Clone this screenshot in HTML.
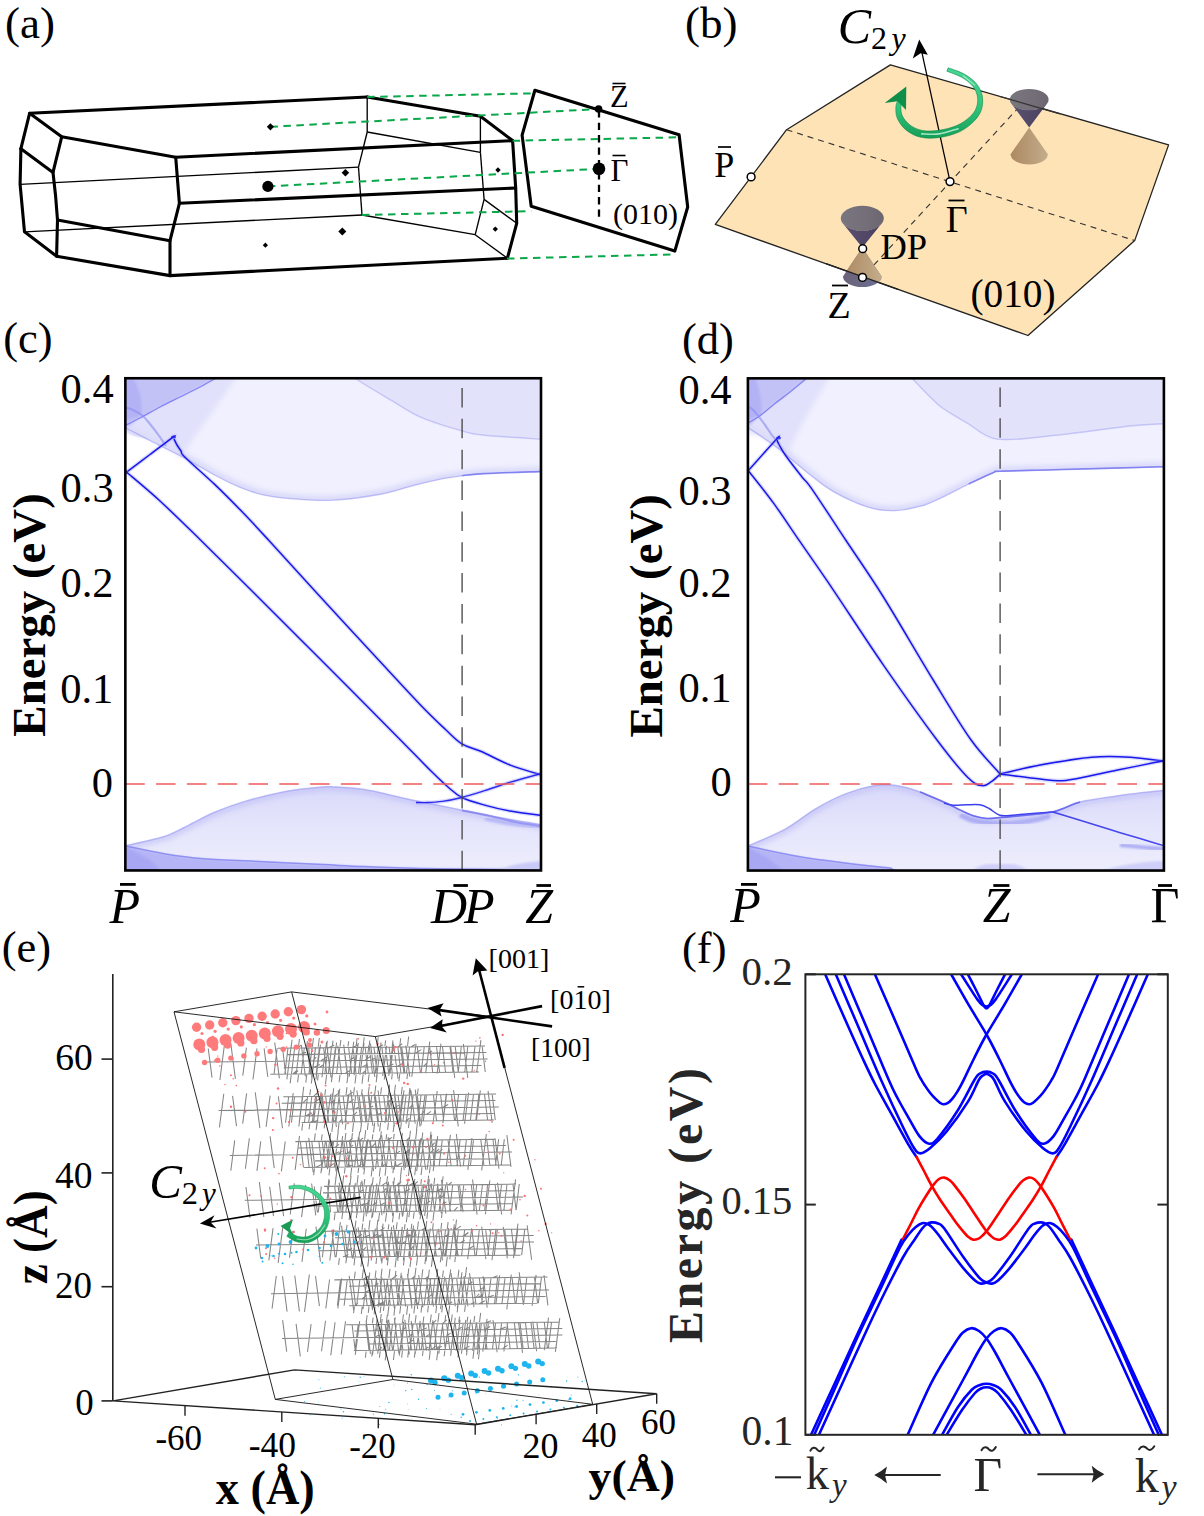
<!DOCTYPE html>
<html><head><meta charset="utf-8"><title>Figure</title>
<style>html,body{margin:0;padding:0;background:#fff;overflow:hidden;} svg{display:block;} text{font-family:"Liberation Serif", serif;}</style>
</head><body>
<svg width="1204" height="1516" viewBox="0 0 1204 1516">
<defs>
<linearGradient id="tanG" x1="0" y1="0" x2="1" y2="0"><stop offset="0" stop-color="#ad8a62"/><stop offset="0.5" stop-color="#b89a76"/><stop offset="1" stop-color="#c4ad8c"/></linearGradient>
<linearGradient id="topG" x1="0" y1="0" x2="1" y2="0"><stop offset="0" stop-color="#7a7680"/><stop offset="0.6" stop-color="#736e78"/><stop offset="1" stop-color="#6d6672"/></linearGradient>
<linearGradient id="purG" x1="0" y1="0" x2="1" y2="0"><stop offset="0" stop-color="#5a5070"/><stop offset="1" stop-color="#4a4060"/></linearGradient>
<linearGradient id="botG" x1="0" y1="0" x2="1" y2="0"><stop offset="0" stop-color="#6c6278"/><stop offset="1" stop-color="#6a6f94"/></linearGradient>
<linearGradient id="grnG" x1="0" y1="0" x2="0" y2="1"><stop offset="0" stop-color="#3fd08a"/><stop offset="0.5" stop-color="#22b86a"/><stop offset="1" stop-color="#109a55"/></linearGradient>
<clipPath id="planeClip"><polygon points="890.4,64.9 1168.6,144.9 1134.7,240.6 1028,335.5 715.3,224.4 786.6,129.7"/></clipPath><linearGradient id="ribG" x1="0" y1="0" x2="0" y2="1"><stop offset="0" stop-color="#48d694"/><stop offset="0.55" stop-color="#30c47c"/><stop offset="1" stop-color="#169e57"/></linearGradient><filter id="blur1" x="-5%" y="-5%" width="110%" height="110%"><feGaussianBlur stdDeviation="1.2"/></filter><filter id="blur2" x="-5%" y="-5%" width="110%" height="110%"><feGaussianBlur stdDeviation="2.5"/></filter><filter id="blur05"><feGaussianBlur stdDeviation="0.45"/></filter><linearGradient id="vbG" gradientUnits="userSpaceOnUse" x1="0" y1="785" x2="0" y2="865"><stop offset="0" stop-color="#dadafb"/><stop offset="0.5" stop-color="#e4e4fc"/><stop offset="1" stop-color="#ececfd"/></linearGradient><clipPath id="clipC"><rect x="125.3" y="378.2" width="415.7" height="492"/></clipPath><clipPath id="clipD"><rect x="747.9" y="378.4" width="416" height="492"/></clipPath><clipPath id="bowlC"><path d="M124,370 C124,379.5 119.67,415.25 124,427 C128.33,438.75 139.83,435.3 150,440.5 C160.17,445.7 174.33,452.52 185,458.2 C195.67,463.88 205.27,469.95 214,474.6 C222.73,479.25 229.15,482.72 237.4,486.1 C245.65,489.48 253.33,492.72 263.5,494.9 C273.67,497.08 286.65,498.33 298.4,499.2 C310.15,500.07 320.17,500.97 334,500.1 C347.83,499.23 368.42,496.37 381.4,494 C394.38,491.63 401.72,488.45 411.9,485.9 C422.08,483.35 434.12,480.4 442.5,478.7 C450.88,477 455.42,476.55 462.2,475.7 C468.98,474.85 470.38,474.28 483.2,473.6 C496.02,472.92 528.8,471.95 539.1,471.6 C549.4,471.25 544.02,488.43 545,471.5 C545.98,454.57 545,386.92 545,370 Z"/></clipPath><clipPath id="vbC"><path d="M124,846.3 C124.33,846.2 119.35,847.3 126,845.7 C132.65,844.1 154.27,839.68 163.9,836.7 C173.53,833.72 175.5,831.78 183.8,827.8 C192.1,823.82 203.73,817.12 213.7,812.8 C223.67,808.48 231.97,805.38 243.6,801.9 C255.23,798.42 271.87,794.23 283.5,791.9 C295.13,789.57 305.1,788.73 313.4,787.9 C321.7,787.07 324.87,786.63 333.3,786.9 C341.73,787.17 351.53,787.45 364,789.5 C376.47,791.55 397.35,796.88 408.1,799.2 C418.85,801.52 419.53,801.55 428.5,803.4 C437.47,805.25 448.27,807.6 461.9,810.3 C475.53,813 497.28,817.2 510.3,819.6 C523.32,822 534.22,823.72 540,824.7 C545.78,825.68 544.17,816.28 545,825.5 C545.83,834.72 615.17,870.92 545,880 C474.83,889.08 194.17,880 124,880 Z"/></clipPath><clipPath id="bowlD"><path d="M746,370 C746,379.67 745.42,418.23 746,428 C746.58,437.77 744.27,425.3 749.5,428.6 C754.73,431.9 767.82,440.53 777.4,447.8 C786.98,455.07 797.7,464.93 807,472.2 C816.3,479.47 823.02,485.58 833.2,491.4 C843.38,497.22 857.92,503.9 868.1,507.1 C878.28,510.3 885.58,510.75 894.3,510.6 C903.02,510.45 912.78,508.25 920.4,506.2 C928.02,504.15 931.95,502 940,498.3 C948.05,494.6 959.78,488.28 968.7,484 C977.62,479.72 988.25,474.73 993.5,472.6 C998.75,470.47 990.02,471.68 1000.2,471.2 C1010.38,470.72 1027.7,470.43 1054.6,469.7 C1081.5,468.97 1142.7,467.3 1161.6,466.8 C1180.5,466.3 1166.93,482.83 1168,466.7 C1169.07,450.57 1168,386.12 1168,370 Z"/></clipPath><clipPath id="vbD"><path d="M746,846.5 C746.5,846.37 742.35,848.65 749,845.7 C755.65,842.75 774.77,834.95 785.9,828.8 C797.03,822.65 805.83,814.62 815.8,808.8 C825.77,802.98 835.73,797.78 845.7,793.9 C855.67,790.02 867.3,786.9 875.6,785.5 C883.9,784.1 888.1,784.42 895.5,785.5 C902.9,786.58 911.48,789.05 920,792 C928.52,794.95 939.95,800.22 946.6,803.2 C953.25,806.18 955.47,807.8 959.9,809.9 C964.33,812 968.78,814.37 973.2,815.8 C977.62,817.23 981.98,818.2 986.4,818.5 C990.82,818.8 993.05,818.15 999.7,817.6 C1006.35,817.05 1017.43,816.15 1026.3,815.2 C1035.17,814.25 1046.25,813.23 1052.9,811.9 C1059.55,810.57 1061.68,808.87 1066.2,807.2 C1070.72,805.53 1071.45,803.78 1080,801.9 C1088.55,800.02 1103.97,797.77 1117.5,795.9 C1131.03,794.03 1152.78,791.68 1161.2,790.7 C1169.62,789.72 1166.87,775.12 1168,790 C1169.13,804.88 1238.33,865 1168,880 C1097.67,895 816.33,880 746,880 Z"/></clipPath><clipPath id="clipF"><rect x="805.4" y="974.3" width="362.4" height="460.5"/></clipPath></defs>
<rect x="0" y="0" width="1204" height="1516" fill="#fff"/>
<text x="5" y="38.3" font-family="&quot;Liberation Serif&quot;, serif" font-size="45" font-weight="normal" font-style="normal" text-anchor="start" fill="#000" >(a)</text>
<text x="685" y="38.2" font-family="&quot;Liberation Serif&quot;, serif" font-size="45" font-weight="normal" font-style="normal" text-anchor="start" fill="#000" >(b)</text>
<text x="3.3" y="353.4" font-family="&quot;Liberation Serif&quot;, serif" font-size="44.5" font-weight="normal" font-style="normal" text-anchor="start" fill="#000" >(c)</text>
<text x="682" y="353.8" font-family="&quot;Liberation Serif&quot;, serif" font-size="44.5" font-weight="normal" font-style="normal" text-anchor="start" fill="#000" >(d)</text>
<text x="1.7" y="962" font-family="&quot;Liberation Serif&quot;, serif" font-size="44.5" font-weight="normal" font-style="normal" text-anchor="start" fill="#000" >(e)</text>
<text x="682" y="962.6" font-family="&quot;Liberation Serif&quot;, serif" font-size="44.5" font-weight="normal" font-style="normal" text-anchor="start" fill="#000" >(f)</text>
<line x1="20.1" y1="184.3" x2="358.5" y2="167.2" stroke="#000" stroke-width="1.35" />
<line x1="24.5" y1="231.8" x2="362" y2="215" stroke="#000" stroke-width="1.35" />
<line x1="367.2" y1="97" x2="367.2" y2="132" stroke="#000" stroke-width="1.35" />
<line x1="367.2" y1="132" x2="358.5" y2="167.2" stroke="#000" stroke-width="1.35" />
<line x1="358.5" y1="167.2" x2="362" y2="215" stroke="#000" stroke-width="1.35" />
<line x1="367.2" y1="132" x2="480.4" y2="152.3" stroke="#000" stroke-width="1.35" />
<line x1="480.4" y1="116.3" x2="480.4" y2="152.3" stroke="#000" stroke-width="1.35" />
<line x1="480.4" y1="152.3" x2="484.1" y2="199.4" stroke="#000" stroke-width="1.35" />
<line x1="484.1" y1="199.4" x2="475.2" y2="234.7" stroke="#000" stroke-width="1.35" />
<line x1="362" y1="215" x2="475.2" y2="234.7" stroke="#000" stroke-width="1.35" />
<line x1="475.2" y1="234.7" x2="507.4" y2="258.2" stroke="#000" stroke-width="1.35" />
<line x1="484.1" y1="199.4" x2="516.7" y2="223.3" stroke="#000" stroke-width="1.35" />
<g stroke="#000" stroke-width="3.1" fill="none" stroke-linejoin="round" stroke-linecap="round">
<polyline points="20.9,148.7 29.6,113.3 367.2,97"/>
<polyline points="29.6,113.3 61.7,136.8 175.7,157.2 512.6,140.6"/>
<polyline points="20.9,148.7 53,172.4 61.7,136.8"/>
<polyline points="20.9,148.7 20.1,184.3 24.5,231.8 56.6,256.2 170,275.6 507.4,258.2"/>
<polyline points="53,172.4 55.6,196 57.5,220 56.6,256.2"/>
<polyline points="57.5,220 170,240.7"/>
<polyline points="175.7,157.2 179.4,203.3 170,240.7 170,275.6"/>
<polyline points="179.4,203.3 515.7,188"/>
<polyline points="367.2,97 480.4,116.3 512.6,140.6 515.7,188 516.7,223.3 507.4,258.2"/>
</g>
<polygon points="534.9,90.3 679.1,134.8 687.7,207 674.8,251.1 531.2,206.2 522.1,135.1" stroke="#000" stroke-width="3.1" fill="none" stroke-linejoin="round" />
<line x1="599" y1="110.3" x2="599" y2="221" stroke="#000" stroke-width="2.3" stroke-dasharray="7.3,5.1"/>
<line x1="367.2" y1="97" x2="534.9" y2="93.3" stroke="#0aa84a" stroke-width="2" stroke-dasharray="7.5,5.5"/>
<line x1="270.4" y1="126.8" x2="598.5" y2="109" stroke="#0aa84a" stroke-width="2" stroke-dasharray="7.5,5.5"/>
<line x1="512.6" y1="140.8" x2="679" y2="137.3" stroke="#0aa84a" stroke-width="2" stroke-dasharray="7.5,5.5"/>
<line x1="267.9" y1="186.4" x2="599" y2="168.8" stroke="#0aa84a" stroke-width="2" stroke-dasharray="7.5,5.5"/>
<line x1="362" y1="215" x2="531.2" y2="211.2" stroke="#0aa84a" stroke-width="2" stroke-dasharray="7.5,5.5"/>
<line x1="507" y1="258.6" x2="674.8" y2="254.4" stroke="#0aa84a" stroke-width="2" stroke-dasharray="7.5,5.5"/>
<polygon points="266.8,126.8 270.4,123.2 274,126.8 270.4,130.4" stroke="#000" stroke-width="0" fill="#000" stroke-linejoin="round" />
<polygon points="262.8,245.2 265.4,242.6 268,245.2 265.4,247.8" stroke="#000" stroke-width="0" fill="#000" stroke-linejoin="round" />
<polygon points="341.6,172.8 345.4,169 349.2,172.8 345.4,176.6" stroke="#000" stroke-width="0" fill="#000" stroke-linejoin="round" />
<polygon points="338.3,231.6 342.3,227.6 346.3,231.6 342.3,235.6" stroke="#000" stroke-width="0" fill="#000" stroke-linejoin="round" />
<polygon points="495.3,170 498,167.3 500.7,170 498,172.7" stroke="#000" stroke-width="0" fill="#000" stroke-linejoin="round" />
<polygon points="492.6,229.1 495.3,226.4 498,229.1 495.3,231.8" stroke="#000" stroke-width="0" fill="#000" stroke-linejoin="round" />
<circle cx="267.9" cy="186.4" r="5.6" fill="#000"/>
<circle cx="598.6" cy="109" r="3.8" fill="#000"/>
<circle cx="599" cy="168.8" r="6.3" fill="#000"/>
<text x="610.1" y="107.4" font-family="&quot;Liberation Serif&quot;, serif" font-size="30.5" font-weight="normal" font-style="normal" text-anchor="start" fill="#000" >Z</text>
<line x1="612.5" y1="83.5" x2="625.5" y2="83.5" stroke="#000" stroke-width="1.6" />
<text x="610.6" y="180.5" font-family="&quot;Liberation Serif&quot;, serif" font-size="31" font-weight="normal" font-style="normal" text-anchor="start" fill="#000" >Γ</text>
<line x1="612.5" y1="155.5" x2="625.5" y2="155.5" stroke="#000" stroke-width="1.6" />
<text x="613.1" y="223.6" font-family="&quot;Liberation Serif&quot;, serif" font-size="30" font-weight="normal" font-style="normal" text-anchor="start" fill="#000" >(010)</text>
<polygon points="890.4,64.9 1168.6,144.9 1134.7,240.6 1028,335.5 715.3,224.4 786.6,129.7" stroke="#222" stroke-width="1.3" fill="#fee3b6" stroke-linejoin="round" />
<line x1="786.6" y1="129.7" x2="1134.7" y2="240.6" stroke="#333" stroke-width="1.1" stroke-dasharray="6,5"/>
<line x1="1019.4" y1="106.6" x2="862.6" y2="277.3" stroke="#333" stroke-width="1.1" stroke-dasharray="6,5"/>
<path d="M862.3,247.5 L843,276.5 A19.3,10.5 0 0 0 881.6,276.5 Z" fill="url(#botG)"/>
<g clip-path="url(#planeClip)">
<path d="M862.3,247.5 L843,276.5 A19.3,9.5 0 0 0 881.6,276.5 Z" fill="url(#tanG)"/>
</g>
<path d="M862.3,247.5 L842.3,222.7 A21.5,12.6 0 0 0 882.3,222.7 Z" fill="url(#purG)"/>
<ellipse cx="862.3" cy="218.3" rx="21.5" ry="12.6" fill="url(#topG)"/>
<line x1="826" y1="263.7" x2="898" y2="289.3" stroke="#222" stroke-width="1.3" />
<path d="M1029.2,127.5 L1010.6,154.2 A18.6,10.2 0 0 0 1047.8,154.2 Z" fill="url(#tanG)"/>
<path d="M1029.2,127.5 L1011.16,103.34 A19.4,10.7 0 0 0 1047.24,103.34 Z" fill="url(#purG)"/>
<ellipse cx="1029.2" cy="99.6" rx="19.4" ry="10.7" fill="url(#topG)"/>
<line x1="1000" y1="96.5" x2="1060" y2="113.8" stroke="#333" stroke-width="1.3" />
<line x1="950" y1="181.5" x2="920.5" y2="46" stroke="#000" stroke-width="1.2" />
<path d="M919.2,39.5 L912.8,58.5 L920.6,53.2 L927.8,54.8 Z" fill="#000"/>
<path d="M946.83,71.17 C949.39,72.23 957.85,74.98 962.2,77.53 C966.56,80.09 970.43,83.25 972.99,86.48 C975.54,89.71 976.99,93.31 977.53,96.91 C978.08,100.51 977.6,104.69 976.26,108.08 C974.93,111.47 972.79,114.31 969.53,117.23 C966.27,120.15 961.81,123.41 956.7,125.6 C951.6,127.78 944.61,129.52 938.89,130.34 C933.17,131.15 927.17,131.33 922.38,130.47 C917.59,129.6 913.46,127.55 910.14,125.15 C906.81,122.76 903.97,119.14 902.43,116.11 C900.89,113.07 900.9,109.44 900.9,106.94 C900.9,104.45 902.16,102.09 902.41,101.12 L897.99,99.88 C897.64,101.04 896,103.75 895.9,106.86 C895.8,109.96 895.64,114.59 897.37,118.49 C899.09,122.39 902.32,127.11 906.26,130.25 C910.2,133.39 915.41,136.13 921.02,137.33 C926.63,138.54 933.5,138.39 939.91,137.46 C946.32,136.54 953.87,134.45 959.5,131.8 C965.12,129.15 970.03,125.22 973.67,121.57 C977.31,117.93 979.91,114.17 981.34,109.92 C982.77,105.67 983.09,100.46 982.27,96.09 C981.44,91.73 979.42,87.39 976.41,83.72 C973.4,80.05 968.9,76.71 964.2,74.07 C959.49,71.42 950.84,68.87 948.17,67.83 Z" fill="url(#ribG)" stroke="#0f8a48" stroke-width="0.6"/>
<path d="M958.1,128.7 C954.98,129.57 945.47,133.03 939.4,133.9 C933.33,134.77 924.65,133.9 921.7,133.9" stroke="#c8f5dc" stroke-width="1.6" fill="none" opacity="0.8" stroke-linecap="round"/>
<path d="M963.2,75.8 L974.7,85.1" stroke="#c8f5dc" stroke-width="1.2" fill="none" opacity="0.7" stroke-linecap="round"/>
<path d="M906.3,86.6 L884.7,103 L897.5,101.3 L906,110 Z" fill="#0f8e4a"/>
<circle cx="751.1" cy="176.9" r="3.9" fill="#fff" stroke="#000" stroke-width="1.5"/>
<circle cx="950" cy="181.6" r="3.9" fill="#fff" stroke="#000" stroke-width="1.5"/>
<circle cx="862.7" cy="248.7" r="3.9" fill="#fff" stroke="#000" stroke-width="1.5"/>
<circle cx="862.5" cy="277.4" r="3.9" fill="#fff" stroke="#000" stroke-width="1.5"/>
<text x="714.2" y="176.9" font-family="&quot;Liberation Serif&quot;, serif" font-size="36" font-weight="normal" font-style="normal" text-anchor="start" fill="#000" >P</text>
<line x1="718" y1="147" x2="731" y2="147" stroke="#000" stroke-width="1.7" />
<text x="945.8" y="232.2" font-family="&quot;Liberation Serif&quot;, serif" font-size="38" font-weight="normal" font-style="normal" text-anchor="start" fill="#000" >Γ</text>
<line x1="948.5" y1="200.5" x2="964.5" y2="200.5" stroke="#000" stroke-width="1.8" />
<text x="880.5" y="259.3" font-family="&quot;Liberation Serif&quot;, serif" font-size="36.5" font-weight="normal" font-style="normal" text-anchor="start" fill="#000" >DP</text>
<text x="827.6" y="318.3" font-family="&quot;Liberation Serif&quot;, serif" font-size="38" font-weight="normal" font-style="normal" text-anchor="start" fill="#000" >Z</text>
<line x1="832" y1="285.5" x2="848" y2="285.5" stroke="#000" stroke-width="1.8" />
<text x="970.4" y="306.7" font-family="&quot;Liberation Serif&quot;, serif" font-size="39.3" font-weight="normal" font-style="normal" text-anchor="start" fill="#000" >(010)</text>
<text x="837.8" y="42.6" font-family="&quot;Liberation Serif&quot;, serif" font-size="50" font-weight="normal" font-style="italic" text-anchor="start" fill="#000" >C</text>
<text x="871" y="48.7" font-family="&quot;Liberation Serif&quot;, serif" font-size="32" font-weight="normal" font-style="normal" text-anchor="start" fill="#000" >2</text>
<text x="891.5" y="49" font-family="&quot;Liberation Serif&quot;, serif" font-size="32" font-weight="normal" font-style="italic" text-anchor="start" fill="#000" >y</text>
<g clip-path="url(#clipC)">
<path d="M124,370 C124,379.5 119.67,415.25 124,427 C128.33,438.75 139.83,435.3 150,440.5 C160.17,445.7 174.33,452.52 185,458.2 C195.67,463.88 205.27,469.95 214,474.6 C222.73,479.25 229.15,482.72 237.4,486.1 C245.65,489.48 253.33,492.72 263.5,494.9 C273.67,497.08 286.65,498.33 298.4,499.2 C310.15,500.07 320.17,500.97 334,500.1 C347.83,499.23 368.42,496.37 381.4,494 C394.38,491.63 401.72,488.45 411.9,485.9 C422.08,483.35 434.12,480.4 442.5,478.7 C450.88,477 455.42,476.55 462.2,475.7 C468.98,474.85 470.38,474.28 483.2,473.6 C496.02,472.92 528.8,471.95 539.1,471.6 C549.4,471.25 544.02,488.43 545,471.5 C545.98,454.57 545,386.92 545,370 Z" fill="#f0f0fe" opacity="1" filter="url(#blur1)"/>
<g clip-path="url(#bowlC)">
<path d="M124,427 C128.33,429.25 139.83,435.3 150,440.5 C160.17,445.7 174.33,452.52 185,458.2 C195.67,463.88 205.27,469.95 214,474.6 C222.73,479.25 229.15,482.72 237.4,486.1 C245.65,489.48 253.33,492.72 263.5,494.9 C273.67,497.08 286.65,498.33 298.4,499.2 C310.15,500.07 320.17,500.97 334,500.1 C347.83,499.23 368.42,496.37 381.4,494 C394.38,491.63 401.72,488.45 411.9,485.9 C422.08,483.35 434.12,480.4 442.5,478.7 C450.88,477 455.42,476.55 462.2,475.7 C468.98,474.85 470.38,474.28 483.2,473.6 C496.02,472.92 528.8,471.95 539.1,471.6 C549.4,471.25 544.02,471.52 545,471.5" stroke="#c4c4f8" stroke-width="9" fill="none" opacity="0.5" stroke-linejoin="round" filter="url(#blur2)"/>
</g>
<path d="M350,370 C350.83,371.33 348.07,372.93 355,378 C361.93,383.07 380.42,393.78 391.6,400.4 C402.78,407.02 410.33,412.62 422.1,417.7 C433.87,422.78 452.02,428.02 462.2,430.9 C472.38,433.78 470.38,433.65 483.2,435 C496.02,436.35 528.8,438.33 539.1,439 C549.4,439.67 544.02,450.5 545,439 C545.98,427.5 545,381.5 545,370 Z" fill="#e2e2fb" opacity="1" filter="url(#blur1)"/>
<path d="M124,376 C124,384.58 122.17,418.33 124,427.5 C125.83,436.67 130.67,429.08 135,431 C139.33,432.92 145,436.5 150,439 C155,441.5 160.83,443.83 165,446 C169.17,448.17 172.5,450 175,452 C177.5,454 178.17,458.33 180,458 C181.83,457.67 183.5,453.67 186,450 C188.5,446.33 191.33,441.33 195,436 C198.67,430.67 203.5,424.33 208,418 C212.5,411.67 217.33,404.67 222,398 C226.67,391.33 233.33,381.67 236,378 C238.67,374.33 237.67,376.33 238,376 Z" fill="#dcdcfa" opacity="0.75" filter="url(#blur2)"/>
<path d="M124,376 C124,384.18 121.33,418.1 124,425.1 C126.67,432.1 134,421.02 140,418 C146,414.98 153.33,410.5 160,407 C166.67,403.5 173.33,400.33 180,397 C186.67,393.67 194.22,390 200,387 C205.78,384 211.37,380.83 214.7,379 C218.03,377.17 219.12,376.5 220,376 Z" fill="#c2c2f7" opacity="1" filter="url(#blur1)"/>
<path d="M124,376 C124,382.83 122.67,410 124,417 C125.33,424 129.17,418.5 132,418 C134.83,417.5 139.67,417.83 141,414 C142.33,410.17 141.17,400.67 140,395 C138.83,389.33 135.67,383.17 134,380 C132.33,376.83 130.67,376.67 130,376 Z" fill="#aeaef4" opacity="0.8" filter="url(#blur1)"/>
<path d="M124,426 C126.67,424.67 134,421.17 140,418 C146,414.83 153.33,410.5 160,407 C166.67,403.5 173.33,400.33 180,397 C186.67,393.67 194,390.17 200,387 C206,383.83 213.33,379.5 216,378" stroke="#6a6af0" stroke-width="1.3" fill="none" opacity="0.75" stroke-linejoin="round" filter="url(#blur05)"/>
<path d="M124,407 C125.5,407.5 129.95,408.58 133,410 C136.05,411.42 139.47,413.17 142.3,415.5 C145.13,417.83 147.23,420.65 150,424 C152.77,427.35 156.23,431.93 158.9,435.6 C161.57,439.27 164.82,444.27 166,446" stroke="#8c8cf2" stroke-width="2.2" fill="none" opacity="0.6" stroke-linejoin="round" filter="url(#blur05)"/>
<path d="M124,427 C128.33,429.25 139.83,435.3 150,440.5 C160.17,445.7 174.33,452.52 185,458.2 C195.67,463.88 205.27,469.95 214,474.6 C222.73,479.25 229.15,482.72 237.4,486.1 C245.65,489.48 253.33,492.72 263.5,494.9 C273.67,497.08 286.65,498.33 298.4,499.2 C310.15,500.07 320.17,500.97 334,500.1 C347.83,499.23 368.42,496.37 381.4,494 C394.38,491.63 401.72,488.45 411.9,485.9 C422.08,483.35 434.12,480.4 442.5,478.7 C450.88,477 455.42,476.55 462.2,475.7 C468.98,474.85 470.38,474.28 483.2,473.6 C496.02,472.92 528.8,471.95 539.1,471.6 C549.4,471.25 544.02,471.52 545,471.5" stroke="#9a9af2" stroke-width="1.3" fill="none" opacity="0.6" stroke-linejoin="round" filter="url(#blur05)"/>
<path d="M350,370 C350.83,371.33 348.07,372.93 355,378 C361.93,383.07 380.42,393.78 391.6,400.4 C402.78,407.02 410.33,412.62 422.1,417.7 C433.87,422.78 452.02,428.02 462.2,430.9 C472.38,433.78 470.38,433.65 483.2,435 C496.02,436.35 528.8,438.33 539.1,439 C549.4,439.67 544.02,439 545,439" stroke="#b4b4f5" stroke-width="1.4" fill="none" opacity="0.7" stroke-linejoin="round" filter="url(#blur05)"/>
<path d="M462.2,475.7 C465.7,475.35 470.38,474.28 483.2,473.6 C496.02,472.92 528.8,471.95 539.1,471.6 C549.4,471.25 544.02,471.52 545,471.5" stroke="#5a5aee" stroke-width="1.6" fill="none" opacity="0.6" stroke-linejoin="round" filter="url(#blur05)"/>
<path d="M124,846.3 C124.33,846.2 119.35,847.3 126,845.7 C132.65,844.1 154.27,839.68 163.9,836.7 C173.53,833.72 175.5,831.78 183.8,827.8 C192.1,823.82 203.73,817.12 213.7,812.8 C223.67,808.48 231.97,805.38 243.6,801.9 C255.23,798.42 271.87,794.23 283.5,791.9 C295.13,789.57 305.1,788.73 313.4,787.9 C321.7,787.07 324.87,786.63 333.3,786.9 C341.73,787.17 351.53,787.45 364,789.5 C376.47,791.55 397.35,796.88 408.1,799.2 C418.85,801.52 419.53,801.55 428.5,803.4 C437.47,805.25 448.27,807.6 461.9,810.3 C475.53,813 497.28,817.2 510.3,819.6 C523.32,822 534.22,823.72 540,824.7 C545.78,825.68 544.17,816.28 545,825.5 C545.83,834.72 615.17,870.92 545,880 C474.83,889.08 194.17,880 124,880 Z" fill="url(#vbG)" opacity="1" filter="url(#blur1)"/>
<g clip-path="url(#vbC)">
<path d="M124,846.3 C124.33,846.2 119.35,847.3 126,845.7 C132.65,844.1 154.27,839.68 163.9,836.7 C173.53,833.72 175.5,831.78 183.8,827.8 C192.1,823.82 203.73,817.12 213.7,812.8 C223.67,808.48 231.97,805.38 243.6,801.9 C255.23,798.42 271.87,794.23 283.5,791.9 C295.13,789.57 305.1,788.73 313.4,787.9 C321.7,787.07 324.87,786.63 333.3,786.9 C341.73,787.17 351.53,787.45 364,789.5 C376.47,791.55 397.35,796.88 408.1,799.2 C418.85,801.52 419.53,801.55 428.5,803.4 C437.47,805.25 448.27,807.6 461.9,810.3 C475.53,813 497.28,817.2 510.3,819.6 C523.32,822 534.22,823.72 540,824.7 C545.78,825.68 544.17,825.37 545,825.5" stroke="#b8b8f6" stroke-width="9" fill="none" opacity="0.5" stroke-linejoin="round" filter="url(#blur2)"/>
</g>
<path d="M124,846.3 C124.33,846.2 119.35,847.3 126,845.7 C132.65,844.1 154.27,839.68 163.9,836.7 C173.53,833.72 175.5,831.78 183.8,827.8 C192.1,823.82 203.73,817.12 213.7,812.8 C223.67,808.48 231.97,805.38 243.6,801.9 C255.23,798.42 271.87,794.23 283.5,791.9 C295.13,789.57 305.1,788.73 313.4,787.9 C321.7,787.07 324.87,786.63 333.3,786.9 C341.73,787.17 351.53,787.45 364,789.5 C376.47,791.55 397.35,796.88 408.1,799.2 C418.85,801.52 419.53,801.55 428.5,803.4 C437.47,805.25 448.27,807.6 461.9,810.3 C475.53,813 497.28,817.2 510.3,819.6 C523.32,822 534.22,823.72 540,824.7 C545.78,825.68 544.17,825.37 545,825.5" stroke="#a8a8f4" stroke-width="1.5" fill="none" opacity="0.8" stroke-linejoin="round" filter="url(#blur05)"/>
<path d="M124,845.7 C130.65,847.03 150.62,851.53 163.9,853.7 C177.18,855.87 187.1,857.37 203.7,858.7 C220.3,860.03 243.57,860.72 263.5,861.7 C283.43,862.68 306.55,863.78 323.3,864.6 C340.05,865.42 347.88,865.95 364,866.6 C380.12,867.25 389.83,867.93 420,868.5 C450.17,869.07 524.17,868.08 545,870 C565.83,871.92 615.17,878.33 545,880 C474.83,881.67 194.17,880 124,880 Z" fill="#b4b4f6" opacity="1" filter="url(#blur1)"/>
<path d="M124,845.7 C130.65,847.03 150.62,851.53 163.9,853.7 C177.18,855.87 187.1,857.37 203.7,858.7 C220.3,860.03 243.57,860.72 263.5,861.7 C283.43,862.68 306.55,863.78 323.3,864.6 C340.05,865.42 347.88,865.95 364,866.6 C380.12,867.25 389.83,867.93 420,868.5 C450.17,869.07 524.17,869.75 545,870" stroke="#8080f0" stroke-width="1.5" fill="none" opacity="0.8" stroke-linejoin="round" filter="url(#blur05)"/>
<path d="M124,846 C124,851.67 117.17,874.33 124,880 C130.83,885.67 160.67,883.33 165,880 C169.33,876.67 152.5,863.33 150,860 Z" fill="#a4a4f4" opacity="0.8" filter="url(#blur1)"/>
<path d="M461.9,810.3 C466.58,811.25 481.15,814.05 490,816 C498.85,817.95 506.67,820.33 515,822 C523.33,823.67 535.83,825.33 540,826" stroke="#6a6aee" stroke-width="2.2" fill="none" opacity="0.55" stroke-linejoin="round" filter="url(#blur05)"/>
<path d="M485,818.5 C489.17,819.33 500,822.08 510,823.5 C520,824.92 539.17,826.42 545,827" stroke="#9a9af4" stroke-width="4" fill="none" opacity="0.5" stroke-linejoin="round" filter="url(#blur1)"/>
<path d="M480,880 C485,877.67 500,869.17 510,866 C520,862.83 534.17,861.83 540,861 C545.83,860.17 544.17,857.83 545,861 C545.83,864.17 545,876.83 545,880 Z" fill="#cacaf8" opacity="1" filter="url(#blur1)"/>
<path d="M124,474.1 C124.43,473.78 122.27,475.47 126.6,472.2 C130.93,468.93 142.3,460.32 150,454.5 C157.7,448.68 168.63,440.35 172.8,437.3 C176.97,434.25 174.63,436.38 175,436.2" stroke="#9a9af4" stroke-width="4.1" fill="none" opacity="0.35" stroke-linejoin="round" filter="url(#blur05)"/>
<path d="M124,474.1 C124.43,473.78 122.27,475.47 126.6,472.2 C130.93,468.93 142.3,460.32 150,454.5 C157.7,448.68 168.63,440.35 172.8,437.3 C176.97,434.25 174.63,436.38 175,436.2" stroke="#1818ec" stroke-width="1.5" fill="none" opacity="1" stroke-linejoin="round" />
<ellipse cx="173.5" cy="437" rx="2.6" ry="1.6" fill="#2020f0" opacity="0.8"/>
<path d="M124,470.2 C124.43,470.53 120.6,467.07 126.6,472.2 C132.6,477.33 147.77,489.78 160,501 C172.23,512.22 185,524.83 200,539.5 C215,554.17 233.33,572.42 250,589 C266.67,605.58 283.33,622.33 300,639 C316.67,655.67 333.33,672.25 350,689 C366.67,705.75 386.67,726 400,739.5 C413.33,753 422,762.08 430,770 C438,777.92 442.68,782.42 448,787 C453.32,791.58 455.78,794.48 461.9,797.5 C468.02,800.52 476.63,802.83 484.7,805.1 C492.77,807.37 500.25,809.3 510.3,811.1 C520.35,812.9 539.22,815.1 545,815.9" stroke="#9a9af4" stroke-width="4.1" fill="none" opacity="0.35" stroke-linejoin="round" filter="url(#blur05)"/>
<path d="M124,470.2 C124.43,470.53 120.6,467.07 126.6,472.2 C132.6,477.33 147.77,489.78 160,501 C172.23,512.22 185,524.83 200,539.5 C215,554.17 233.33,572.42 250,589 C266.67,605.58 283.33,622.33 300,639 C316.67,655.67 333.33,672.25 350,689 C366.67,705.75 386.67,726 400,739.5 C413.33,753 422,762.08 430,770 C438,777.92 442.68,782.42 448,787 C453.32,791.58 455.78,794.48 461.9,797.5 C468.02,800.52 476.63,802.83 484.7,805.1 C492.77,807.37 500.25,809.3 510.3,811.1 C520.35,812.9 539.22,815.1 545,815.9" stroke="#1818ec" stroke-width="1.5" fill="none" opacity="1" stroke-linejoin="round" />
<path d="M174,439 C174.5,440 175.83,443 177,445 C178.17,447 179.67,448.97 181,451 C182.33,453.03 179.38,451.63 185,457.2 C190.62,462.77 205.1,475.22 214.7,484.4 C224.3,493.58 233.63,503.03 242.6,512.3 C251.57,521.57 255.6,525.97 268.5,540 C281.4,554.03 301.42,576.25 320,596.5 C338.58,616.75 363.33,643.52 380,661.5 C396.67,679.48 409.17,693.15 420,704.4 C430.83,715.65 438.02,722.42 445,729 C451.98,735.58 455.85,740.15 461.9,743.9 C467.95,747.65 473.23,747.97 481.3,751.5 C489.37,755.03 499.68,761.02 510.3,765.1 C520.92,769.18 539.22,774.18 545,776" stroke="#9a9af4" stroke-width="4.1" fill="none" opacity="0.35" stroke-linejoin="round" filter="url(#blur05)"/>
<path d="M174,439 C174.5,440 175.83,443 177,445 C178.17,447 179.67,448.97 181,451 C182.33,453.03 179.38,451.63 185,457.2 C190.62,462.77 205.1,475.22 214.7,484.4 C224.3,493.58 233.63,503.03 242.6,512.3 C251.57,521.57 255.6,525.97 268.5,540 C281.4,554.03 301.42,576.25 320,596.5 C338.58,616.75 363.33,643.52 380,661.5 C396.67,679.48 409.17,693.15 420,704.4 C430.83,715.65 438.02,722.42 445,729 C451.98,735.58 455.85,740.15 461.9,743.9 C467.95,747.65 473.23,747.97 481.3,751.5 C489.37,755.03 499.68,761.02 510.3,765.1 C520.92,769.18 539.22,774.18 545,776" stroke="#1818ec" stroke-width="1.5" fill="none" opacity="1" stroke-linejoin="round" />
<path d="M416,802.5 C417.52,802.52 420.73,802.78 425.1,802.6 C429.47,802.42 436.07,802.25 442.2,801.4 C448.33,800.55 454.82,799.28 461.9,797.5 C468.98,795.72 476.63,793.25 484.7,790.7 C492.77,788.15 500.25,785.23 510.3,782.2 C520.35,779.17 539.22,774.12 545,772.5" stroke="#9a9af4" stroke-width="4.0" fill="none" opacity="0.35" stroke-linejoin="round" filter="url(#blur05)"/>
<path d="M416,802.5 C417.52,802.52 420.73,802.78 425.1,802.6 C429.47,802.42 436.07,802.25 442.2,801.4 C448.33,800.55 454.82,799.28 461.9,797.5 C468.98,795.72 476.63,793.25 484.7,790.7 C492.77,788.15 500.25,785.23 510.3,782.2 C520.35,779.17 539.22,774.12 545,772.5" stroke="#1818ec" stroke-width="1.4" fill="none" opacity="0.9" stroke-linejoin="round" />
</g>
<line x1="462.1" y1="378" x2="462.1" y2="870" stroke="#444" stroke-width="1.3" stroke-dasharray="19.5,11.35" stroke-dashoffset="-10"/>
<line x1="125.3" y1="784" x2="541" y2="784" stroke="#f05a5a" stroke-width="1.3" stroke-dasharray="19.5,11.3" stroke-dashoffset="0"/>
<g clip-path="url(#clipD)">
<path d="M746,370 C746,379.67 745.42,418.23 746,428 C746.58,437.77 744.27,425.3 749.5,428.6 C754.73,431.9 767.82,440.53 777.4,447.8 C786.98,455.07 797.7,464.93 807,472.2 C816.3,479.47 823.02,485.58 833.2,491.4 C843.38,497.22 857.92,503.9 868.1,507.1 C878.28,510.3 885.58,510.75 894.3,510.6 C903.02,510.45 912.78,508.25 920.4,506.2 C928.02,504.15 931.95,502 940,498.3 C948.05,494.6 959.78,488.28 968.7,484 C977.62,479.72 988.25,474.73 993.5,472.6 C998.75,470.47 990.02,471.68 1000.2,471.2 C1010.38,470.72 1027.7,470.43 1054.6,469.7 C1081.5,468.97 1142.7,467.3 1161.6,466.8 C1180.5,466.3 1166.93,482.83 1168,466.7 C1169.07,450.57 1168,386.12 1168,370 Z" fill="#f0f0fe" opacity="1" filter="url(#blur1)"/>
<g clip-path="url(#bowlD)">
<path d="M746,428 C746.58,428.1 744.27,425.3 749.5,428.6 C754.73,431.9 767.82,440.53 777.4,447.8 C786.98,455.07 797.7,464.93 807,472.2 C816.3,479.47 823.02,485.58 833.2,491.4 C843.38,497.22 857.92,503.9 868.1,507.1 C878.28,510.3 885.58,510.75 894.3,510.6 C903.02,510.45 912.78,508.25 920.4,506.2 C928.02,504.15 931.95,502 940,498.3 C948.05,494.6 959.78,488.28 968.7,484 C977.62,479.72 988.25,474.73 993.5,472.6 C998.75,470.47 990.02,471.68 1000.2,471.2 C1010.38,470.72 1027.7,470.43 1054.6,469.7 C1081.5,468.97 1142.7,467.3 1161.6,466.8 C1180.5,466.3 1166.93,466.72 1168,466.7" stroke="#c4c4f8" stroke-width="9" fill="none" opacity="0.5" stroke-linejoin="round" filter="url(#blur2)"/>
</g>
<path d="M905,370 C906.42,371.62 908.02,374 913.5,379.7 C918.98,385.4 930.82,398.08 937.9,404.2 C944.98,410.32 950.87,413.13 956,416.4 C961.13,419.67 961.82,420.02 968.7,423.8 C975.58,427.58 982.98,437.18 997.3,439.1 C1011.62,441.02 1032.32,437.52 1054.6,435.3 C1076.88,433.08 1113.17,427.72 1131,425.8 C1148.83,423.88 1155.43,424.18 1161.6,423.8 C1167.77,423.42 1166.93,432.47 1168,423.5 C1169.07,414.53 1168,378.92 1168,370 Z" fill="#e2e2fb" opacity="1" filter="url(#blur1)"/>
<path d="M746,376 C746,384.77 743.67,418.6 746,428.6 C748.33,438.6 755.33,433.3 760,436 C764.67,438.7 769.67,442.13 774,444.8 C778.33,447.47 783,452.13 786,452 C789,451.87 789.67,448 792,444 C794.33,440 797,433.67 800,428 C803,422.33 806.33,416.33 810,410 C813.67,403.67 819,395.33 822,390 C825,384.67 826.67,380.33 828,378 C829.33,375.67 829.67,376.33 830,376 Z" fill="#dcdcfa" opacity="0.75" filter="url(#blur2)"/>
<path d="M746,376 C746,383.98 743.83,417.15 746,423.9 C748.17,430.65 754.17,419.9 759,416.5 C763.83,413.1 769.83,407.58 775,403.5 C780.17,399.42 784.87,396.08 790,392 C795.13,387.92 802.8,381.67 805.8,379 C808.8,376.33 807.63,376.5 808,376 Z" fill="#c2c2f7" opacity="1" filter="url(#blur1)"/>
<path d="M746,376 C746,382.67 744.5,409.17 746,416 C747.5,422.83 752.5,417.67 755,417 C757.5,416.33 760.17,415.67 761,412 C761.83,408.33 760.83,400.33 760,395 C759.17,389.67 757,383.17 756,380 C755,376.83 754.33,376.67 754,376 Z" fill="#aeaef4" opacity="0.8" filter="url(#blur1)"/>
<path d="M746,424 C748.17,422.75 754.17,419.92 759,416.5 C763.83,413.08 769.83,407.58 775,403.5 C780.17,399.42 784.67,396.25 790,392 C795.33,387.75 804.17,380.33 807,378" stroke="#6a6af0" stroke-width="1.3" fill="none" opacity="0.75" stroke-linejoin="round" filter="url(#blur05)"/>
<path d="M746,406 C747,406.5 749.83,407.18 752,409 C754.17,410.82 756.83,414.23 759,416.9 C761.17,419.57 763,422.18 765,425 C767,427.82 769.17,431.3 771,433.8 C772.83,436.3 775.17,438.97 776,440" stroke="#8c8cf2" stroke-width="2.2" fill="none" opacity="0.6" stroke-linejoin="round" filter="url(#blur05)"/>
<path d="M746,428 C746.58,428.1 744.27,425.3 749.5,428.6 C754.73,431.9 767.82,440.53 777.4,447.8 C786.98,455.07 797.7,464.93 807,472.2 C816.3,479.47 823.02,485.58 833.2,491.4 C843.38,497.22 857.92,503.9 868.1,507.1 C878.28,510.3 885.58,510.75 894.3,510.6 C903.02,510.45 912.78,508.25 920.4,506.2 C928.02,504.15 931.95,502 940,498.3 C948.05,494.6 959.78,488.28 968.7,484 C977.62,479.72 988.25,474.73 993.5,472.6 C998.75,470.47 990.02,471.68 1000.2,471.2 C1010.38,470.72 1027.7,470.43 1054.6,469.7 C1081.5,468.97 1142.7,467.3 1161.6,466.8 C1180.5,466.3 1166.93,466.72 1168,466.7" stroke="#9a9af2" stroke-width="1.3" fill="none" opacity="0.6" stroke-linejoin="round" filter="url(#blur05)"/>
<path d="M905,370 C906.42,371.62 908.02,374 913.5,379.7 C918.98,385.4 930.82,398.08 937.9,404.2 C944.98,410.32 950.87,413.13 956,416.4 C961.13,419.67 961.82,420.02 968.7,423.8 C975.58,427.58 982.98,437.18 997.3,439.1 C1011.62,441.02 1032.32,437.52 1054.6,435.3 C1076.88,433.08 1113.17,427.72 1131,425.8 C1148.83,423.88 1155.43,424.18 1161.6,423.8 C1167.77,423.42 1166.93,423.55 1168,423.5" stroke="#b4b4f5" stroke-width="1.4" fill="none" opacity="0.7" stroke-linejoin="round" filter="url(#blur05)"/>
<path d="M968.7,484 C972.83,482.1 988.25,474.73 993.5,472.6 C998.75,470.47 990.02,471.68 1000.2,471.2 C1010.38,470.72 1027.7,470.43 1054.6,469.7 C1081.5,468.97 1142.7,467.3 1161.6,466.8 C1180.5,466.3 1166.93,466.72 1168,466.7" stroke="#5a5aee" stroke-width="1.6" fill="none" opacity="0.6" stroke-linejoin="round" filter="url(#blur05)"/>
<path d="M746,846.5 C746.5,846.37 742.35,848.65 749,845.7 C755.65,842.75 774.77,834.95 785.9,828.8 C797.03,822.65 805.83,814.62 815.8,808.8 C825.77,802.98 835.73,797.78 845.7,793.9 C855.67,790.02 867.3,786.9 875.6,785.5 C883.9,784.1 888.1,784.42 895.5,785.5 C902.9,786.58 911.48,789.05 920,792 C928.52,794.95 939.95,800.22 946.6,803.2 C953.25,806.18 955.47,807.8 959.9,809.9 C964.33,812 968.78,814.37 973.2,815.8 C977.62,817.23 981.98,818.2 986.4,818.5 C990.82,818.8 993.05,818.15 999.7,817.6 C1006.35,817.05 1017.43,816.15 1026.3,815.2 C1035.17,814.25 1046.25,813.23 1052.9,811.9 C1059.55,810.57 1061.68,808.87 1066.2,807.2 C1070.72,805.53 1071.45,803.78 1080,801.9 C1088.55,800.02 1103.97,797.77 1117.5,795.9 C1131.03,794.03 1152.78,791.68 1161.2,790.7 C1169.62,789.72 1166.87,775.12 1168,790 C1169.13,804.88 1238.33,865 1168,880 C1097.67,895 816.33,880 746,880 Z" fill="url(#vbG)" opacity="1" filter="url(#blur1)"/>
<g clip-path="url(#vbD)">
<path d="M746,846.5 C746.5,846.37 742.35,848.65 749,845.7 C755.65,842.75 774.77,834.95 785.9,828.8 C797.03,822.65 805.83,814.62 815.8,808.8 C825.77,802.98 835.73,797.78 845.7,793.9 C855.67,790.02 867.3,786.9 875.6,785.5 C883.9,784.1 888.1,784.42 895.5,785.5 C902.9,786.58 911.48,789.05 920,792 C928.52,794.95 939.95,800.22 946.6,803.2 C953.25,806.18 955.47,807.8 959.9,809.9 C964.33,812 968.78,814.37 973.2,815.8 C977.62,817.23 981.98,818.2 986.4,818.5 C990.82,818.8 993.05,818.15 999.7,817.6 C1006.35,817.05 1017.43,816.15 1026.3,815.2 C1035.17,814.25 1046.25,813.23 1052.9,811.9 C1059.55,810.57 1061.68,808.87 1066.2,807.2 C1070.72,805.53 1071.45,803.78 1080,801.9 C1088.55,800.02 1103.97,797.77 1117.5,795.9 C1131.03,794.03 1152.78,791.68 1161.2,790.7 C1169.62,789.72 1166.87,790.12 1168,790" stroke="#b8b8f6" stroke-width="9" fill="none" opacity="0.5" stroke-linejoin="round" filter="url(#blur2)"/>
</g>
<path d="M746,846.5 C746.5,846.37 742.35,848.65 749,845.7 C755.65,842.75 774.77,834.95 785.9,828.8 C797.03,822.65 805.83,814.62 815.8,808.8 C825.77,802.98 835.73,797.78 845.7,793.9 C855.67,790.02 867.3,786.9 875.6,785.5 C883.9,784.1 888.1,784.42 895.5,785.5 C902.9,786.58 911.48,789.05 920,792 C928.52,794.95 939.95,800.22 946.6,803.2 C953.25,806.18 955.47,807.8 959.9,809.9 C964.33,812 968.78,814.37 973.2,815.8 C977.62,817.23 981.98,818.2 986.4,818.5 C990.82,818.8 993.05,818.15 999.7,817.6 C1006.35,817.05 1017.43,816.15 1026.3,815.2 C1035.17,814.25 1046.25,813.23 1052.9,811.9 C1059.55,810.57 1061.68,808.87 1066.2,807.2 C1070.72,805.53 1071.45,803.78 1080,801.9 C1088.55,800.02 1103.97,797.77 1117.5,795.9 C1131.03,794.03 1152.78,791.68 1161.2,790.7 C1169.62,789.72 1166.87,790.12 1168,790" stroke="#a8a8f4" stroke-width="1.5" fill="none" opacity="0.8" stroke-linejoin="round" filter="url(#blur05)"/>
<path d="M746,845.7 C755.97,847.7 782.55,854.05 805.8,857.7 C829.05,861.35 866.47,865.38 885.5,867.6 C904.53,869.82 872.92,870.43 920,871 C967.08,871.57 1126.67,869.5 1168,871 C1209.33,872.5 1238.33,878.5 1168,880 C1097.67,881.5 816.33,880 746,880 Z" fill="#b4b4f6" opacity="1" filter="url(#blur1)"/>
<path d="M746,845.7 C755.97,847.7 782.55,854.05 805.8,857.7 C829.05,861.35 866.47,865.38 885.5,867.6 C904.53,869.82 872.92,870.43 920,871 C967.08,871.57 1126.67,871 1168,871" stroke="#8080f0" stroke-width="1.5" fill="none" opacity="0.8" stroke-linejoin="round" filter="url(#blur05)"/>
<path d="M746,846 C746,851.67 738.67,874.33 746,880 C753.33,885.67 786,883.33 790,880 C794,876.67 773.33,863.33 770,860 Z" fill="#a4a4f4" opacity="0.8" filter="url(#blur1)"/>
<path d="M960,815 C962.2,815.92 968.2,819.17 973.2,820.5 C978.2,821.83 983.37,822.55 990,823 C996.63,823.45 1005.5,823.7 1013,823.2 C1020.5,822.7 1028.83,821.2 1035,820 C1041.17,818.8 1047.5,816.67 1050,816" stroke="#8a8af0" stroke-width="5" fill="none" opacity="0.55" stroke-linejoin="round" filter="url(#blur1)"/>
<path d="M944,803 C945.53,803.37 949.45,804.9 953.2,805.2 C956.95,805.5 962.07,804.87 966.5,804.8 C970.93,804.73 976.03,804.18 979.8,804.8 C983.57,805.42 985.78,806.77 989.1,808.5 C992.42,810.23 995.72,814.08 999.7,815.2 C1003.68,816.32 1008.57,815.42 1013,815.2 C1017.43,814.98 1020.77,814.35 1026.3,813.9 C1031.83,813.45 1041.77,812.83 1046.2,812.5 C1050.63,812.17 1051.78,812 1052.9,811.9" stroke="#2a2aec" stroke-width="1.5" fill="none" opacity="0.9" stroke-linejoin="round" />
<path d="M920,792 C924.43,793.87 939.95,800.22 946.6,803.2 C953.25,806.18 955.47,807.8 959.9,809.9 C964.33,812 968.78,814.37 973.2,815.8 C977.62,817.23 981.98,818.2 986.4,818.5 C990.82,818.8 993.05,818.15 999.7,817.6 C1006.35,817.05 1017.43,816.15 1026.3,815.2 C1035.17,814.25 1046.25,813.23 1052.9,811.9 C1059.55,810.57 1061.68,808.87 1066.2,807.2 C1070.72,805.53 1077.7,802.78 1080,801.9" stroke="#5050ec" stroke-width="1.6" fill="none" opacity="0.7" stroke-linejoin="round" filter="url(#blur05)"/>
<path d="M1052.9,811.9 C1057.42,813.28 1070.48,817.25 1080,820.2 C1089.52,823.15 1100,826.55 1110,829.6 C1120,832.65 1130.33,835.6 1140,838.5 C1149.67,841.4 1163.33,845.58 1168,847" stroke="#2a2aec" stroke-width="1.6" fill="none" opacity="0.85" stroke-linejoin="round" />
<path d="M1120,845 C1125,845.5 1142,847.33 1150,848 C1158,848.67 1165,848.83 1168,849" stroke="#7070f0" stroke-width="4" fill="none" opacity="0.5" stroke-linejoin="round" filter="url(#blur1)"/>
<path d="M963,880 C965.83,877.67 973.83,868.67 980,866 C986.17,863.33 993.33,864 1000,864 C1006.67,864 1013.33,863.33 1020,866 C1026.67,868.67 1036.67,877.67 1040,880 Z" fill="#c8c8f8" opacity="0.8" filter="url(#blur1)"/>
<path d="M1080,880 C1086.67,877.67 1105.33,869 1120,866 C1134.67,863 1160,859.67 1168,862 C1176,864.33 1168,877 1168,880 Z" fill="#c8c8f8" opacity="0.8" filter="url(#blur1)"/>
<path d="M746,473.3 C746.58,472.62 746.5,472.58 749.5,469.2 C752.5,465.82 759.27,458.23 764,453 C768.73,447.77 775.23,440.55 777.9,437.8 C780.57,435.05 779.65,436.72 780,436.5" stroke="#9a9af4" stroke-width="4.1" fill="none" opacity="0.35" stroke-linejoin="round" filter="url(#blur05)"/>
<path d="M746,473.3 C746.58,472.62 746.5,472.58 749.5,469.2 C752.5,465.82 759.27,458.23 764,453 C768.73,447.77 775.23,440.55 777.9,437.8 C780.57,435.05 779.65,436.72 780,436.5" stroke="#1818ec" stroke-width="1.5" fill="none" opacity="1" stroke-linejoin="round" />
<ellipse cx="778.5" cy="438" rx="2.5" ry="1.6" fill="#2020f0" opacity="0.8"/>
<path d="M746,468.5 C746.58,469.12 744.85,466.35 749.5,472.2 C754.15,478.05 765.48,492.02 773.9,503.6 C782.32,515.18 790.12,527.33 800,541.7 C809.88,556.07 819.35,569.32 833.2,589.8 C847.05,610.28 865.8,639.57 883.1,664.6 C900.4,689.63 922.83,721.13 937,740 C951.17,758.87 960.55,770.2 968.1,777.8 C975.65,785.4 978.43,784.95 982.3,785.6 C986.17,786.25 988.3,783.63 991.3,781.7 C994.3,779.77 998.8,775.28 1000.3,774" stroke="#9a9af4" stroke-width="4.1" fill="none" opacity="0.35" stroke-linejoin="round" filter="url(#blur05)"/>
<path d="M746,468.5 C746.58,469.12 744.85,466.35 749.5,472.2 C754.15,478.05 765.48,492.02 773.9,503.6 C782.32,515.18 790.12,527.33 800,541.7 C809.88,556.07 819.35,569.32 833.2,589.8 C847.05,610.28 865.8,639.57 883.1,664.6 C900.4,689.63 922.83,721.13 937,740 C951.17,758.87 960.55,770.2 968.1,777.8 C975.65,785.4 978.43,784.95 982.3,785.6 C986.17,786.25 988.3,783.63 991.3,781.7 C994.3,779.77 998.8,775.28 1000.3,774" stroke="#1818ec" stroke-width="1.5" fill="none" opacity="1" stroke-linejoin="round" />
<path d="M777,440 C777.33,440.75 777.5,441.83 779,444.5 C780.5,447.17 782.2,450.63 786,456 C789.8,461.37 797.42,471.1 801.8,476.7 C806.18,482.3 804.98,479.05 812.3,489.6 C819.62,500.15 833.9,522.18 845.7,540 C857.5,557.82 868.57,573.25 883.1,596.5 C897.63,619.75 918.23,655.58 932.9,679.5 C947.57,703.42 959.87,724.25 971.1,740 C982.33,755.75 995.43,768.33 1000.3,774" stroke="#9a9af4" stroke-width="4.1" fill="none" opacity="0.35" stroke-linejoin="round" filter="url(#blur05)"/>
<path d="M777,440 C777.33,440.75 777.5,441.83 779,444.5 C780.5,447.17 782.2,450.63 786,456 C789.8,461.37 797.42,471.1 801.8,476.7 C806.18,482.3 804.98,479.05 812.3,489.6 C819.62,500.15 833.9,522.18 845.7,540 C857.5,557.82 868.57,573.25 883.1,596.5 C897.63,619.75 918.23,655.58 932.9,679.5 C947.57,703.42 959.87,724.25 971.1,740 C982.33,755.75 995.43,768.33 1000.3,774" stroke="#1818ec" stroke-width="1.5" fill="none" opacity="1" stroke-linejoin="round" />
<path d="M1000.3,774 C1006.95,772.5 1024.97,767.8 1040.2,765 C1055.43,762.2 1076.68,758.5 1091.7,757.2 C1106.72,755.9 1117.58,756.43 1130.3,757.2 C1143.02,757.97 1161.72,761.03 1168,761.8" stroke="#9a9af4" stroke-width="4.1" fill="none" opacity="0.35" stroke-linejoin="round" filter="url(#blur05)"/>
<path d="M1000.3,774 C1006.95,772.5 1024.97,767.8 1040.2,765 C1055.43,762.2 1076.68,758.5 1091.7,757.2 C1106.72,755.9 1117.58,756.43 1130.3,757.2 C1143.02,757.97 1161.72,761.03 1168,761.8" stroke="#1818ec" stroke-width="1.5" fill="none" opacity="1" stroke-linejoin="round" />
<path d="M1000.3,774 C1006.95,774.85 1029.25,778.03 1040.2,779.1 C1051.15,780.17 1053.12,781.9 1066,780.4 C1078.88,778.9 1100.5,773.53 1117.5,770.1 C1134.5,766.67 1159.58,761.52 1168,759.8" stroke="#9a9af4" stroke-width="4.1" fill="none" opacity="0.35" stroke-linejoin="round" filter="url(#blur05)"/>
<path d="M1000.3,774 C1006.95,774.85 1029.25,778.03 1040.2,779.1 C1051.15,780.17 1053.12,781.9 1066,780.4 C1078.88,778.9 1100.5,773.53 1117.5,770.1 C1134.5,766.67 1159.58,761.52 1168,759.8" stroke="#1818ec" stroke-width="1.5" fill="none" opacity="1" stroke-linejoin="round" />
</g>
<line x1="1000.1" y1="378" x2="1000.1" y2="870" stroke="#444" stroke-width="1.3" stroke-dasharray="19.5,11.35" stroke-dashoffset="-9.5"/>
<line x1="747.9" y1="784" x2="1164" y2="784" stroke="#f05a5a" stroke-width="1.3" stroke-dasharray="19.5,11.3"/>
<rect x="125.35" y="378.25" width="415.65" height="492.2" fill="none" stroke="#000" stroke-width="2.6"/>
<rect x="747.9" y="378.35" width="416" height="492.2" fill="none" stroke="#000" stroke-width="2.6"/>
<text x="60.5" y="402.5" font-family="&quot;Liberation Serif&quot;, serif" font-size="42.5" font-weight="normal" font-style="normal" text-anchor="start" fill="#000" >0.4</text>
<text x="60.5" y="502.3" font-family="&quot;Liberation Serif&quot;, serif" font-size="42.5" font-weight="normal" font-style="normal" text-anchor="start" fill="#000" >0.3</text>
<text x="60.4" y="597" font-family="&quot;Liberation Serif&quot;, serif" font-size="42.5" font-weight="normal" font-style="normal" text-anchor="start" fill="#000" >0.2</text>
<text x="60.2" y="703.1" font-family="&quot;Liberation Serif&quot;, serif" font-size="42.5" font-weight="normal" font-style="normal" text-anchor="start" fill="#000" >0.1</text>
<text x="91.8" y="796.8" font-family="&quot;Liberation Serif&quot;, serif" font-size="42.5" font-weight="normal" font-style="normal" text-anchor="start" fill="#000" >0</text>
<text x="678.4" y="404.3" font-family="&quot;Liberation Serif&quot;, serif" font-size="42.5" font-weight="normal" font-style="normal" text-anchor="start" fill="#000" >0.4</text>
<text x="678.4" y="504.5" font-family="&quot;Liberation Serif&quot;, serif" font-size="42.5" font-weight="normal" font-style="normal" text-anchor="start" fill="#000" >0.3</text>
<text x="678.4" y="597.4" font-family="&quot;Liberation Serif&quot;, serif" font-size="42.5" font-weight="normal" font-style="normal" text-anchor="start" fill="#000" >0.2</text>
<text x="678.4" y="701.9" font-family="&quot;Liberation Serif&quot;, serif" font-size="42.5" font-weight="normal" font-style="normal" text-anchor="start" fill="#000" >0.1</text>
<text x="710.5" y="796.2" font-family="&quot;Liberation Serif&quot;, serif" font-size="42.5" font-weight="normal" font-style="normal" text-anchor="start" fill="#000" >0</text>
<text x="45.3" y="614.9" font-family="&quot;Liberation Serif&quot;, serif" font-size="47" font-weight="bold" font-style="normal" text-anchor="middle" fill="#000" transform="rotate(-90 45.3 614.9)" textLength="243.5" lengthAdjust="spacingAndGlyphs">Energy (eV)</text>
<text x="662.3" y="615.8" font-family="&quot;Liberation Serif&quot;, serif" font-size="47" font-weight="bold" font-style="normal" text-anchor="middle" fill="#000" transform="rotate(-90 662.3 615.8)" textLength="243.5" lengthAdjust="spacingAndGlyphs">Energy (eV)</text>
<text x="109.4" y="923" font-family="&quot;Liberation Serif&quot;, serif" font-size="50" font-weight="normal" font-style="italic" text-anchor="start" fill="#000" >P</text>
<line x1="120" y1="884.4" x2="135.7" y2="884.4" stroke="#000" stroke-width="2.8" />
<text x="431" y="923" font-family="&quot;Liberation Serif&quot;, serif" font-size="50" font-weight="normal" font-style="italic" text-anchor="start" fill="#000" >D</text>
<text x="464" y="923" font-family="&quot;Liberation Serif&quot;, serif" font-size="50" font-weight="normal" font-style="italic" text-anchor="start" fill="#000" >P</text>
<line x1="453.4" y1="885.5" x2="467.9" y2="885.5" stroke="#000" stroke-width="2.8" />
<text x="525.2" y="923" font-family="&quot;Liberation Serif&quot;, serif" font-size="50" font-weight="normal" font-style="italic" text-anchor="start" fill="#000" >Z</text>
<line x1="536.4" y1="885.5" x2="551" y2="885.5" stroke="#000" stroke-width="2.8" />
<text x="730.2" y="922.3" font-family="&quot;Liberation Serif&quot;, serif" font-size="50" font-weight="normal" font-style="italic" text-anchor="start" fill="#000" >P</text>
<line x1="741" y1="884.4" x2="757" y2="884.4" stroke="#000" stroke-width="2.8" />
<text x="982.8" y="922.3" font-family="&quot;Liberation Serif&quot;, serif" font-size="50" font-weight="normal" font-style="italic" text-anchor="start" fill="#000" >Z</text>
<line x1="993.3" y1="885.5" x2="1009.4" y2="885.5" stroke="#000" stroke-width="2.8" />
<text x="1150.5" y="922.3" font-family="&quot;Liberation Serif&quot;, serif" font-size="50" font-weight="normal" font-style="normal" text-anchor="start" fill="#000" >Γ</text>
<line x1="1158" y1="885.5" x2="1172" y2="885.5" stroke="#000" stroke-width="2.8" />
<g clip-path="url(#clipF)" fill="none" stroke-width="2.6" stroke-linecap="round" stroke-linejoin="round">
<path d="M822.8,968.8 C823.2,969.72 821,964.77 825.2,974.3 C829.4,983.83 841.87,1012.22 848,1026 C854.13,1039.78 857.5,1047.33 862,1057 C866.5,1066.67 869.93,1074.23 875,1084 C880.07,1093.77 886.8,1105.47 892.4,1115.6 C898,1125.73 904.58,1137.92 908.6,1144.8 C912.62,1151.68 915.18,1154.88 916.5,1156.9" stroke="#0000ff"/>
<path d="M1071.4,1239.6 C1075,1247.33 1085.6,1270.17 1093,1286 C1100.4,1301.83 1108.13,1318.1 1115.8,1334.6 C1123.47,1351.1 1131.35,1368.38 1139,1385 C1146.65,1401.62 1157.45,1425.13 1161.7,1434.3 C1165.95,1443.47 1164.03,1439.05 1164.5,1440" stroke="#0000ff"/>
<path d="M1056.5,1156.9 C1057.82,1154.88 1060.38,1151.68 1064.4,1144.8 C1068.42,1137.92 1075,1125.73 1080.6,1115.6 C1086.2,1105.47 1092.93,1093.77 1098,1084 C1103.07,1074.23 1106.5,1066.67 1111,1057 C1115.5,1047.33 1118.87,1039.78 1125,1026 C1131.13,1012.22 1143.6,983.83 1147.8,974.3 C1152,964.77 1149.8,969.72 1150.2,968.8" stroke="#0000ff"/>
<path d="M808.5,1440 C808.97,1439.05 807.05,1443.47 811.3,1434.3 C815.55,1425.13 826.35,1401.62 834,1385 C841.65,1368.38 849.53,1351.1 857.2,1334.6 C864.87,1318.1 872.6,1301.83 880,1286 C887.4,1270.17 898,1247.33 901.6,1239.6" stroke="#0000ff"/>
<path d="M916.5,1156.9 C917.75,1159.25 921.43,1166.13 924,1171 C926.57,1175.87 929.23,1181.35 931.9,1186.1 C934.57,1190.85 937.18,1195.15 940,1199.5 C942.82,1203.85 946.13,1208.37 948.8,1212.2 C951.47,1216.03 953.72,1219.43 956,1222.5 C958.28,1225.57 960.58,1228.32 962.5,1230.6 C964.42,1232.88 965.72,1234.68 967.5,1236.2 C969.28,1237.72 971.45,1239.25 973.2,1239.7 C974.95,1240.15 976.53,1239.52 978,1238.9 C979.47,1238.28 980.6,1237.25 982,1236 C983.4,1234.75 984.73,1233.48 986.4,1231.4 C988.07,1229.32 989.82,1226.7 992,1223.5 C994.18,1220.3 996.67,1216.45 999.5,1212.2 C1002.33,1207.95 1005.93,1202.35 1009,1198 C1012.07,1193.65 1015.57,1189.02 1017.9,1186.1 C1020.23,1183.18 1021.2,1181.92 1023,1180.5 C1024.8,1179.08 1026.87,1177.85 1028.7,1177.6 C1030.53,1177.35 1032.22,1177.83 1034,1179 C1035.78,1180.17 1037.23,1181.77 1039.4,1184.6 C1041.57,1187.43 1044.43,1191.92 1047,1196 C1049.57,1200.08 1052.3,1204.52 1054.8,1209.1 C1057.3,1213.68 1059.47,1218.52 1062,1223.5 C1064.53,1228.48 1068.67,1236.42 1070,1239" stroke="#ff0000"/>
<path d="M903,1239 C904.33,1236.42 908.47,1228.48 911,1223.5 C913.53,1218.52 915.7,1213.68 918.2,1209.1 C920.7,1204.52 923.43,1200.08 926,1196 C928.57,1191.92 931.43,1187.43 933.6,1184.6 C935.77,1181.77 937.22,1180.17 939,1179 C940.78,1177.83 942.47,1177.35 944.3,1177.6 C946.13,1177.85 948.2,1179.08 950,1180.5 C951.8,1181.92 952.77,1183.18 955.1,1186.1 C957.43,1189.02 960.93,1193.65 964,1198 C967.07,1202.35 970.67,1207.95 973.5,1212.2 C976.33,1216.45 978.82,1220.3 981,1223.5 C983.18,1226.7 984.93,1229.32 986.6,1231.4 C988.27,1233.48 989.6,1234.75 991,1236 C992.4,1237.25 993.53,1238.28 995,1238.9 C996.47,1239.52 998.05,1240.15 999.8,1239.7 C1001.55,1239.25 1003.72,1237.72 1005.5,1236.2 C1007.28,1234.68 1008.58,1232.88 1010.5,1230.6 C1012.42,1228.32 1014.72,1225.57 1017,1222.5 C1019.28,1219.43 1021.53,1216.03 1024.2,1212.2 C1026.87,1208.37 1030.18,1203.85 1033,1199.5 C1035.82,1195.15 1038.43,1190.85 1041.1,1186.1 C1043.77,1181.35 1046.43,1175.87 1049,1171 C1051.57,1166.13 1055.25,1159.25 1056.5,1156.9" stroke="#ff0000"/>
<path d="M833.6,968.8 C833.97,969.72 831.73,964.77 835.8,974.3 C839.87,983.83 850.45,1008.38 858,1026 C865.55,1043.62 873.57,1063.08 881.1,1080 C888.63,1096.92 897.72,1116.17 903.2,1127.5 C908.68,1138.83 911.13,1143.68 914,1148 C916.87,1152.32 917.7,1153.4 920.4,1153.4 C923.1,1153.4 925.87,1151.6 930.2,1148 C934.53,1144.4 940.1,1139.53 946.4,1131.8 C952.7,1124.07 962.6,1110.23 968,1101.6 C973.4,1092.97 976.3,1084.35 978.8,1080 C981.3,1075.65 981.72,1076.52 983,1075.5 C984.28,1074.48 985.33,1073.9 986.5,1073.9 C987.67,1073.9 988.72,1074.48 990,1075.5 C991.28,1076.52 991.7,1075.65 994.2,1080 C996.7,1084.35 999.6,1092.97 1005,1101.6 C1010.4,1110.23 1020.3,1124.07 1026.6,1131.8 C1032.9,1139.53 1038.47,1144.4 1042.8,1148 C1047.13,1151.6 1049.9,1153.4 1052.6,1153.4 C1055.3,1153.4 1056.13,1152.32 1059,1148 C1061.87,1143.68 1064.32,1138.83 1069.8,1127.5 C1075.28,1116.17 1084.37,1096.92 1091.9,1080 C1099.43,1063.08 1107.45,1043.62 1115,1026 C1122.55,1008.38 1133.13,983.83 1137.2,974.3 C1141.27,964.77 1139.03,969.72 1139.4,968.8" stroke="#0000ff"/>
<path d="M841.8,968.8 C842.17,969.72 839.97,964.77 844,974.3 C848.03,983.83 858.53,1008.38 866,1026 C873.47,1043.62 883.47,1067.83 888.8,1080 C894.13,1092.17 894.7,1092.7 898,1099 C901.3,1105.3 905.03,1111.62 908.6,1117.8 C912.17,1123.98 915.98,1131.78 919.4,1136.1 C922.82,1140.42 926.05,1143.33 929.1,1143.7 C932.15,1144.07 933.02,1143.7 937.7,1138.3 C942.38,1132.9 951.08,1121.02 957.2,1111.3 C963.32,1101.58 970.6,1086.3 974.4,1080 C978.2,1073.7 977.98,1074.9 980,1073.5 C982.02,1072.1 984.33,1071.6 986.5,1071.6 C988.67,1071.6 990.98,1072.1 993,1073.5 C995.02,1074.9 994.8,1073.7 998.6,1080 C1002.4,1086.3 1009.68,1101.58 1015.8,1111.3 C1021.92,1121.02 1030.62,1132.9 1035.3,1138.3 C1039.98,1143.7 1040.85,1144.07 1043.9,1143.7 C1046.95,1143.33 1050.18,1140.42 1053.6,1136.1 C1057.02,1131.78 1060.83,1123.98 1064.4,1117.8 C1067.97,1111.62 1071.7,1105.3 1075,1099 C1078.3,1092.7 1078.87,1092.17 1084.2,1080 C1089.53,1067.83 1099.53,1043.62 1107,1026 C1114.47,1008.38 1124.97,983.83 1129,974.3 C1133.03,964.77 1130.83,969.72 1131.2,968.8" stroke="#0000ff"/>
<path d="M872.5,968.8 C872.9,969.72 871.07,965.52 874.9,974.3 C878.73,983.08 888.6,1005.6 895.5,1021.5 C902.4,1037.4 911.97,1059.95 916.3,1069.7 C920.63,1079.45 920.08,1077.38 921.5,1080 C922.92,1082.62 923.35,1083.23 924.8,1085.4 C926.25,1087.57 928.4,1090.75 930.2,1093 C932,1095.25 933.98,1097.28 935.6,1098.9 C937.22,1100.52 938.65,1101.8 939.9,1102.7 C941.15,1103.6 941.83,1104.22 943.1,1104.3 C944.37,1104.38 946.05,1104.02 947.5,1103.2 C948.95,1102.38 950.18,1101.28 951.8,1099.4 C953.42,1097.52 955.4,1094.77 957.2,1091.9 C959,1089.03 959.8,1087.77 962.6,1082.2 C965.4,1076.63 970.07,1066.37 974,1058.5 C977.93,1050.63 981.1,1044.02 986.2,1035 C991.3,1025.98 998.67,1014.52 1004.6,1004.4 C1010.53,994.28 1018.4,980.23 1021.8,974.3 C1025.2,968.37 1024.47,969.72 1025,968.8" stroke="#0000ff"/>
<path d="M948,968.8 C948.53,969.72 947.8,968.37 951.2,974.3 C954.6,980.23 962.47,994.28 968.4,1004.4 C974.33,1014.52 981.7,1025.98 986.8,1035 C991.9,1044.02 995.07,1050.63 999,1058.5 C1002.93,1066.37 1007.6,1076.63 1010.4,1082.2 C1013.2,1087.77 1014,1089.03 1015.8,1091.9 C1017.6,1094.77 1019.58,1097.52 1021.2,1099.4 C1022.82,1101.28 1024.05,1102.38 1025.5,1103.2 C1026.95,1104.02 1028.63,1104.38 1029.9,1104.3 C1031.17,1104.22 1031.85,1103.6 1033.1,1102.7 C1034.35,1101.8 1035.78,1100.52 1037.4,1098.9 C1039.02,1097.28 1041,1095.25 1042.8,1093 C1044.6,1090.75 1046.75,1087.57 1048.2,1085.4 C1049.65,1083.23 1050.08,1082.62 1051.5,1080 C1052.92,1077.38 1052.37,1079.45 1056.7,1069.7 C1061.03,1059.95 1070.6,1037.4 1077.5,1021.5 C1084.4,1005.6 1094.27,983.08 1098.1,974.3 C1101.93,965.52 1100.1,969.72 1100.5,968.8" stroke="#0000ff"/>
<path d="M958,968.8 C958.55,969.75 959.02,970.82 961.3,974.5 C963.58,978.18 968.97,986.67 971.7,990.9 C974.43,995.13 975.98,997.62 977.7,999.9 C979.42,1002.18 980.53,1003.48 982,1004.6 C983.47,1005.72 985,1006.6 986.5,1006.6 C988,1006.6 989.53,1005.72 991,1004.6 C992.47,1003.48 993.58,1002.18 995.3,999.9 C997.02,997.62 998.57,995.13 1001.3,990.9 C1004.03,986.67 1009.42,978.18 1011.7,974.5 C1013.98,970.82 1014.45,969.75 1015,968.8" stroke="#0000ff"/>
<path d="M965,968.8 C965.5,969.75 966.33,971.3 968,974.5 C969.67,977.7 973,984.08 975,988 C977,991.92 978.58,995.13 980,998 C981.42,1000.87 982.42,1003.48 983.5,1005.2 C984.58,1006.92 985.5,1008.3 986.5,1008.3 C987.5,1008.3 988.42,1006.92 989.5,1005.2 C990.58,1003.48 991.58,1000.87 993,998 C994.42,995.13 996,991.92 998,988 C1000,984.08 1003.33,977.7 1005,974.5 C1006.67,971.3 1007.5,969.75 1008,968.8" stroke="#0000ff"/>
<path d="M811.6,1440 C812.08,1439.05 810.43,1443.3 814.5,1434.3 C818.57,1425.3 828.88,1402.1 836,1386 C843.12,1369.9 849.87,1353.7 857.2,1337.7 C864.53,1321.7 872.87,1305.03 880,1290 C887.13,1274.97 895.17,1256.83 900,1247.5 C904.83,1238.17 906.37,1237.43 909,1234 C911.63,1230.57 913.6,1228.7 915.8,1226.9 C918,1225.1 920.25,1223.68 922.2,1223.2 C924.15,1222.72 925.92,1223.38 927.5,1224 C929.08,1224.62 929.78,1224.98 931.7,1226.9 C933.62,1228.82 936.37,1232.07 939,1235.5 C941.63,1238.93 943.45,1242.07 947.5,1247.5 C951.55,1252.93 958.72,1262.6 963.3,1268.1 C967.88,1273.6 972.05,1277.92 975,1280.5 C977.95,1283.08 979,1283.3 981,1283.6 C983,1283.9 984.87,1283.3 987,1282.3 C989.13,1281.3 990.02,1281.82 993.8,1277.6 C997.58,1273.38 1003.88,1265.18 1009.7,1257 C1015.52,1248.82 1024.48,1234.08 1028.7,1228.5 C1032.92,1222.92 1032.9,1224.52 1035,1223.5 C1037.1,1222.48 1039.47,1222.32 1041.3,1222.4 C1043.13,1222.48 1044.42,1222.98 1046,1224 C1047.58,1225.02 1048.8,1226 1050.8,1228.5 C1052.8,1231 1054.83,1234.25 1058,1239 C1061.17,1243.75 1064.97,1248.5 1069.8,1257 C1074.63,1265.5 1081.18,1278.38 1087,1290 C1092.82,1301.62 1097.53,1311.37 1104.7,1326.7 C1111.87,1342.03 1121.82,1364.07 1130,1382 C1138.18,1399.93 1149.38,1424.63 1153.8,1434.3 C1158.22,1443.97 1156.05,1439.05 1156.5,1440" stroke="#0000ff"/>
<path d="M816.5,1440 C816.95,1439.05 814.78,1443.97 819.2,1434.3 C823.62,1424.63 834.82,1399.93 843,1382 C851.18,1364.07 861.13,1342.03 868.3,1326.7 C875.47,1311.37 880.18,1301.62 886,1290 C891.82,1278.38 898.37,1265.5 903.2,1257 C908.03,1248.5 911.83,1243.75 915,1239 C918.17,1234.25 920.2,1231 922.2,1228.5 C924.2,1226 925.42,1225.02 927,1224 C928.58,1222.98 929.87,1222.48 931.7,1222.4 C933.53,1222.32 935.9,1222.48 938,1223.5 C940.1,1224.52 940.08,1222.92 944.3,1228.5 C948.52,1234.08 957.48,1248.82 963.3,1257 C969.12,1265.18 975.42,1273.38 979.2,1277.6 C982.98,1281.82 983.87,1281.3 986,1282.3 C988.13,1283.3 990,1283.9 992,1283.6 C994,1283.3 995.05,1283.08 998,1280.5 C1000.95,1277.92 1005.12,1273.6 1009.7,1268.1 C1014.28,1262.6 1021.45,1252.93 1025.5,1247.5 C1029.55,1242.07 1031.37,1238.93 1034,1235.5 C1036.63,1232.07 1039.38,1228.82 1041.3,1226.9 C1043.22,1224.98 1043.92,1224.62 1045.5,1224 C1047.08,1223.38 1048.85,1222.72 1050.8,1223.2 C1052.75,1223.68 1055,1225.1 1057.2,1226.9 C1059.4,1228.7 1061.37,1230.57 1064,1234 C1066.63,1237.43 1068.17,1238.17 1073,1247.5 C1077.83,1256.83 1085.87,1274.97 1093,1290 C1100.13,1305.03 1108.47,1321.7 1115.8,1337.7 C1123.13,1353.7 1129.88,1369.9 1137,1386 C1144.12,1402.1 1154.43,1425.3 1158.5,1434.3 C1162.57,1443.3 1160.92,1439.05 1161.4,1440" stroke="#0000ff"/>
<path d="M905,1440 C905.48,1439.05 903.45,1443.95 907.9,1434.3 C912.35,1424.65 923.78,1397.4 931.7,1382.1 C939.62,1366.8 950.18,1350.77 955.4,1342.5 C960.62,1334.23 960.37,1334.88 963,1332.5 C965.63,1330.12 968.53,1328.45 971.2,1328.2 C973.87,1327.95 976.45,1329.28 979,1331 C981.55,1332.72 983.83,1335 986.5,1338.5 C989.17,1342 991.08,1345.08 995,1352 C998.92,1358.92 1002.57,1366.28 1010,1380 C1017.43,1393.72 1034.17,1424.3 1039.6,1434.3 C1045.03,1444.3 1042.1,1439.05 1042.6,1440" stroke="#0000ff"/>
<path d="M930.4,1440 C930.9,1439.05 927.97,1444.3 933.4,1434.3 C938.83,1424.3 955.57,1393.72 963,1380 C970.43,1366.28 974.08,1358.92 978,1352 C981.92,1345.08 983.83,1342 986.5,1338.5 C989.17,1335 991.45,1332.72 994,1331 C996.55,1329.28 999.13,1327.95 1001.8,1328.2 C1004.47,1328.45 1007.37,1330.12 1010,1332.5 C1012.63,1334.88 1012.38,1334.23 1017.6,1342.5 C1022.82,1350.77 1033.38,1366.8 1041.3,1382.1 C1049.22,1397.4 1060.65,1424.65 1065.1,1434.3 C1069.55,1443.95 1067.52,1439.05 1068,1440" stroke="#0000ff"/>
<path d="M939.5,1440 C939.98,1439.05 939.32,1439.8 942.4,1434.3 C945.48,1428.8 953.07,1414.47 958,1407 C962.93,1399.53 968.33,1393.17 972,1389.5 C975.67,1385.83 977.58,1385.95 980,1385 C982.42,1384.05 984.33,1383.8 986.5,1383.8 C988.67,1383.8 990.58,1384.05 993,1385 C995.42,1385.95 997.33,1385.83 1001,1389.5 C1004.67,1393.17 1010.07,1399.53 1015,1407 C1019.93,1414.47 1027.52,1428.8 1030.6,1434.3 C1033.68,1439.8 1033.02,1439.05 1033.5,1440" stroke="#0000ff"/>
<path d="M944,1440 C944.5,1439.05 944,1439.3 947,1434.3 C950,1429.3 957.33,1416.88 962,1410 C966.67,1403.12 971.83,1396.58 975,1393 C978.17,1389.42 979.08,1389.47 981,1388.5 C982.92,1387.53 984.67,1387.2 986.5,1387.2 C988.33,1387.2 990.08,1387.53 992,1388.5 C993.92,1389.47 994.83,1389.42 998,1393 C1001.17,1396.58 1006.33,1403.12 1011,1410 C1015.67,1416.88 1023,1429.3 1026,1434.3 C1029,1439.3 1028.5,1439.05 1029,1440" stroke="#0000ff"/>
</g>
<rect x="805.4" y="974.3" width="362.4" height="460.5" fill="none" stroke="#262626" stroke-width="2"/>
<line x1="805.4" y1="974.3" x2="815.8" y2="974.3" stroke="#262626" stroke-width="2" />
<line x1="1157.4" y1="974.3" x2="1167.8" y2="974.3" stroke="#262626" stroke-width="2" />
<line x1="805.4" y1="1204.6" x2="815.8" y2="1204.6" stroke="#262626" stroke-width="2" />
<line x1="1157.4" y1="1204.6" x2="1167.8" y2="1204.6" stroke="#262626" stroke-width="2" />
<line x1="805.4" y1="1434.8" x2="815.8" y2="1434.8" stroke="#262626" stroke-width="2" />
<line x1="1157.4" y1="1434.8" x2="1167.8" y2="1434.8" stroke="#262626" stroke-width="2" />
<text x="741.6" y="984.6" font-family="&quot;Liberation Serif&quot;, serif" font-size="41" font-weight="normal" font-style="normal" text-anchor="start" fill="#262626" >0.2</text>
<text x="721.4" y="1213.9" font-family="&quot;Liberation Serif&quot;, serif" font-size="40.5" font-weight="normal" font-style="normal" text-anchor="start" fill="#262626" >0.15</text>
<text x="741.5" y="1445.3" font-family="&quot;Liberation Serif&quot;, serif" font-size="41.5" font-weight="normal" font-style="normal" text-anchor="start" fill="#262626" >0.1</text>
<text x="701.6" y="1205.5" font-family="&quot;Liberation Serif&quot;, serif" font-size="48" font-weight="bold" font-style="normal" text-anchor="middle" fill="#262626" transform="rotate(-90 701.6 1205.5)" textLength="275" lengthAdjust="spacing">Energy (eV)</text>
<line x1="775" y1="1477.3" x2="801" y2="1477.3" stroke="#262626" stroke-width="2.1" />
<text x="805.8" y="1489.2" font-family="&quot;Liberation Serif&quot;, serif" font-size="46.5" font-weight="normal" font-style="normal" text-anchor="start" fill="#262626" >k</text>
<path d="M810.4,1450.62 C813.04,1445.78 815.94,1447.98 817.66,1450.18 C819.64,1452.38 821.62,1451.06 823.6,1447.54" stroke="#262626" stroke-width="2.0" fill="none" stroke-linecap="round"/>
<text x="832" y="1496" font-family="&quot;Liberation Serif&quot;, serif" font-size="33" font-weight="normal" font-style="italic" text-anchor="start" fill="#262626" >y</text>
<line x1="880" y1="1475" x2="940.7" y2="1475" stroke="#262626" stroke-width="2" />
<path d="M874.3,1475 Q882,1471 887,1466.5 L885,1475 L887,1483.5 Q882,1479 874.3,1475 Z" fill="#262626"/>
<text x="973.4" y="1491.4" font-family="&quot;Liberation Serif&quot;, serif" font-size="49.5" font-weight="normal" font-style="normal" text-anchor="start" fill="#262626" >Γ</text>
<path d="M981.5,1450.22 C984.36,1445.38 987.51,1447.58 989.37,1449.78 C991.51,1451.98 993.65,1450.66 995.8,1447.14" stroke="#262626" stroke-width="2.0" fill="none" stroke-linecap="round"/>
<line x1="1037.4" y1="1474.2" x2="1098" y2="1474.2" stroke="#262626" stroke-width="2" />
<path d="M1104.4,1474.2 Q1096.7,1470.2 1091.7,1465.7 L1093.7,1474.2 L1091.7,1482.7 Q1096.7,1478.2 1104.4,1474.2 Z" fill="#262626"/>
<text x="1134.7" y="1491.6" font-family="&quot;Liberation Serif&quot;, serif" font-size="48" font-weight="normal" font-style="normal" text-anchor="start" fill="#262626" >k</text>
<path d="M1139.1,1449.32 C1142.14,1444.48 1145.48,1446.68 1147.46,1448.88 C1149.74,1451.08 1152.02,1449.76 1154.3,1446.24" stroke="#262626" stroke-width="2.0" fill="none" stroke-linecap="round"/>
<text x="1161.5" y="1498" font-family="&quot;Liberation Serif&quot;, serif" font-size="34" font-weight="normal" font-style="italic" text-anchor="start" fill="#262626" >y</text>
<path d="M207,1062L487.6,1059M277.82,1048.24L485.06,1046.03M287,1054.64L486.38,1052.51M283.77,1067.68L481.44,1065.57M270.36,1074.32L479.06,1072.09M277.15,1048.25L274.03,1074.25M282.57,1048.19L285.69,1074.19M287.96,1048.13L284.84,1074.13M294.59,1048.06L291.47,1074.06M299.34,1048.01L296.22,1074.01M304.29,1047.96L301.17,1073.96M308.62,1047.91L311.74,1073.91M312.06,1047.88L308.94,1073.88M315.5,1047.84L312.38,1073.84M319.35,1047.8L316.23,1073.8M323.61,1047.75L326.73,1073.75M327.92,1047.71L324.8,1073.71M331.45,1047.67L328.33,1073.67M335.43,1047.63L332.31,1073.63M339.74,1047.58L336.62,1073.58M343.94,1047.54L347.06,1073.54M348.6,1047.49L351.72,1073.49M352.95,1047.44L356.07,1073.44M356.91,1047.4L353.79,1073.4M361.61,1047.35L358.49,1073.35M365.11,1047.31L368.23,1073.31M369.35,1047.26L372.47,1073.26M373.93,1047.22L377.05,1073.22M378.32,1047.17L375.2,1073.17M381.87,1047.13L384.99,1073.13M385.51,1047.09L388.63,1073.09M389.13,1047.05L392.25,1073.05M393.2,1047.01L390.08,1073.01M397.84,1046.96L400.96,1072.96M401.77,1046.92L404.89,1072.92M406.13,1046.87L409.25,1072.87M409.61,1046.83L406.49,1072.83M417.26,1046.75L420.38,1072.75M424.27,1046.68L421.15,1072.68M429.63,1046.62L432.75,1072.62M436.51,1046.55L439.63,1072.55M442.45,1046.48L445.57,1072.48M449.96,1046.4L453.08,1072.4M455.22,1046.35L458.34,1072.35M461.34,1046.28L458.22,1072.28M467.83,1046.21L464.71,1072.21M475.02,1046.13L471.9,1072.13M482.14,1046.06L485.26,1072.06M208.25,1048.48L212.04,1077.66M224.57,1043.92L219.87,1080.02M230.71,1042.8L235.4,1078.82M246.41,1047.69L242.77,1075.66M257.01,1048.41L252.97,1079.47M264.1,1048.35L267.81,1076.89M274.73,1042.53L279.39,1078.39M291.28,1045.38L286.87,1079.35M301.4,1045.58L305.4,1076.33M307.13,1047.54L310.61,1074.32M315.5,1047.2L311.56,1077.46M320.46,1044.59L315.92,1079.5M326.47,1042.5L321.93,1077.43M326.39,1041.96L330.98,1077.31M336.62,1042.55L331.8,1079.6M337.76,1045.71L341.5,1074.45M343.68,1044.64L347.97,1077.67M353.71,1041.75L349.18,1076.63M358.28,1042.86L354.08,1075.2M364.05,1043.17L359.92,1074.91M368.99,1045.15L365.16,1074.63M370.43,1043.41L374.78,1076.91M381.07,1042.33L376.42,1078.07M386.62,1045.9L382.7,1076.06M393.09,1042.29L388.73,1075.87M393.57,1044.3L398.03,1078.61M400.43,1046.43L403.95,1073.53M405.77,1045.63L409.79,1076.6M416.06,1043.91L411.8,1076.7M429.78,1041.64L425.65,1073.36M440.96,1043.65L437.07,1073.59M450.53,1045.86L454.72,1078.05M463.35,1043.83L467.78,1077.92M480.9,1040.14L476.72,1072.26M292.06,1039.77L291.18,1047.1M291.18,1075.1L290.19,1083.38M299.45,1039.04L298.49,1047.02M298.49,1075.02L297.61,1082.39M307.41,1041.15L306.72,1046.93M306.72,1074.93L305.79,1082.68M313.46,1037.88L312.38,1046.87M312.38,1074.87L311.34,1083.51M319.31,1038.06L318.26,1046.81M318.26,1074.81L317.58,1080.51M327.34,1040.75L326.63,1046.72M326.63,1074.72L325.5,1084.09M333.03,1040.6L332.31,1046.66M332.31,1074.66L331.41,1082.17M340.84,1039.95L340.04,1046.58M340.04,1074.58L339.12,1082.3M348.62,1041.19L347.98,1046.49M347.98,1074.49L346.94,1083.19M357.09,1038.09L356.09,1046.41M356.09,1074.41L355,1083.48M364.24,1037.19L363.14,1046.33M363.14,1074.33L362.01,1083.72M369.8,1040.51L369.11,1046.27M369.11,1074.27L368.2,1081.82M378.22,1037.3L377.15,1046.18M377.15,1074.18L376.19,1082.22M385.61,1040.35L384.92,1046.1M384.92,1074.1L384.24,1079.81M392.93,1040.42L392.26,1046.02M392.26,1074.02L391.62,1079.33M400.69,1038.29L399.77,1045.94M399.77,1073.94L398.88,1081.35M408.67,1036.44L407.54,1045.86M407.54,1073.86L406.91,1079.14M297.1,1048.04L301.62,1044.91M397.81,1046.96L402.14,1043.73M362.11,1073.34L365.71,1070.79M362.47,1066.84L367,1064.34M364.59,1060.32L370.35,1056.53M319.6,1067.3L323.01,1065.05M353.21,1047.44L358.22,1044.58M321.02,1060.78L326.37,1056.99M312.85,1060.87L316.28,1057.1M426.93,1053.15L432.17,1050.96M415.34,1053.27L421.31,1049.61M313.83,1067.36L319.82,1064.55M350.29,1060.47L354.24,1057.02M293.91,1074.07L298.29,1070.66M345.1,1073.52L349.98,1070.5M300.2,1054.5L306.12,1052.29M328.44,1047.7L334.16,1045.34M397.22,1066.47L402.76,1063.11M423.9,1066.18L427.35,1062.34M371.23,1060.24L374.5,1058.13M387.74,1066.57L393.42,1064.03M293.54,1048.07L298.95,1045.91M411.31,1046.82L415.1,1044.57M292.8,1074.08L297.05,1070.25M378.4,1047.17L382.99,1044.69M218.6,1110.6L498.8,1107M283.31,1096.77L496.09,1094.03M281.66,1103.29L495.41,1100.54M288.99,1116.2L493.67,1113.57M301.53,1122.53L493.93,1120.06M288.65,1096.7L285.53,1122.7M294.55,1096.62L291.43,1122.62M302.34,1096.52L299.22,1122.52M307.58,1096.46L304.46,1122.46M311.8,1096.4L308.68,1122.4M316.73,1096.34L313.61,1122.34M321.2,1096.28L324.32,1122.28M325.66,1096.22L328.78,1122.22M330.65,1096.16L333.77,1122.16M335.17,1096.1L332.05,1122.1M339.1,1096.05L335.98,1122.05M343.14,1096L346.26,1122M348.15,1095.94L345.03,1121.94M351.54,1095.89L354.66,1121.89M355.62,1095.84L352.5,1121.84M359.12,1095.79L362.24,1121.79M363.94,1095.73L367.06,1121.73M368.31,1095.68L371.43,1121.68M371.75,1095.63L368.63,1121.63M375.37,1095.59L378.49,1121.59M378.74,1095.54L381.86,1121.54M383.71,1095.48L386.83,1121.48M387.48,1095.43L390.6,1121.43M391.21,1095.38L388.09,1121.38M394.57,1095.34L397.69,1121.34M398.07,1095.29L401.19,1121.29M402.28,1095.24L399.16,1121.24M406.05,1095.19L402.93,1121.19M409.57,1095.15L406.45,1121.15M413.17,1095.1L410.05,1121.1M417.19,1095.05L420.31,1121.05M421.06,1095L417.94,1121M426.48,1094.93L423.36,1120.93M433.39,1094.84L436.51,1120.84M440.58,1094.75L443.7,1120.75M446.17,1094.68L443.05,1120.68M451.48,1094.61L454.6,1120.61M458.59,1094.52L455.47,1120.52M466.15,1094.42L463.03,1120.42M473.5,1094.33L470.38,1120.33M478.92,1094.26L475.8,1120.26M484.47,1094.18L487.59,1120.18M492.16,1094.09L495.28,1120.09M223.78,1093.79L219.42,1127.32M232.57,1095.81L236.51,1126.14M246.61,1093.31L242.66,1123.66M255.22,1092.24L259.89,1128.18M270.14,1095.58L266.07,1126.86M278.33,1096.35L282.48,1128.27M293.23,1092.97L288.86,1126.53M302.98,1094.55L298.83,1126.45M315.65,1096.3L312.22,1122.74M321.17,1092.16L316.73,1126.37M321.93,1093.46L326.04,1125.04M330.58,1094.32L326.89,1122.7M332.04,1093.36L336.42,1127.04M338.15,1090.07L342.61,1124.35M348.78,1095.5L345.27,1122.49M350.64,1090.16L354.87,1122.67M356.9,1090.47L361.52,1126.01M362.19,1093.36L366,1122.68M368.67,1093.21L372.94,1126.01M374.06,1093.68L378.34,1126.62M378.06,1090.49L382.18,1122.24M389.23,1090.03L384.92,1123.18M390.06,1093.03L394.43,1126.59M394.35,1090.78L398.98,1126.44M403.98,1090.24L399.73,1122.96M410.55,1089.34L406.07,1123.78M410.89,1090.39L415.22,1123.67M415.26,1089.56L420.08,1126.69M425,1094.67L421.01,1125.36M437.22,1090.95L433.12,1122.54M446.69,1093.67L442.85,1123.18M453.55,1090.12L458.27,1126.41M468.59,1092.61L464.54,1123.76M480.35,1090.41L476.41,1120.72M488.04,1090.81L492.21,1122.83M303.72,1086.72L302.66,1095.52M302.66,1123.52L301.8,1130.66M310.54,1089.21L309.79,1095.43M309.79,1123.43L309.09,1129.3M317.74,1088.74L316.95,1095.34M316.95,1123.34L316.13,1130.18M325.54,1089.22L324.82,1095.24M324.82,1123.24L324.2,1128.34M333.68,1088.22L332.85,1095.13M332.85,1123.13L331.81,1131.86M339.8,1088.7L339.04,1095.05M339.04,1123.05L337.99,1131.81M346.98,1087.09L346.04,1094.96M346.04,1122.96L345.22,1129.76M354.48,1087.22L353.56,1094.87M353.56,1122.87L352.49,1131.82M362.19,1089.3L361.54,1094.76M361.54,1122.76L360.4,1132.25M369.2,1086.45L368.21,1094.68M368.21,1122.68L367.35,1129.84M375.78,1085.52L374.69,1094.59M374.69,1122.59L373.51,1132.43M381.5,1087.39L380.64,1094.52M380.64,1122.52L379.58,1131.34M389.68,1084.58L388.49,1094.42M388.49,1122.42L387.6,1129.87M395.46,1084.69L394.3,1094.34M394.3,1122.34L393.14,1131.98M402.26,1086.91L401.38,1094.25M401.38,1122.25L400.51,1129.5M409.9,1088.03L409.17,1094.15M409.17,1122.15L408.48,1127.91M418.16,1088.5L417.49,1094.04M417.49,1122.04L416.4,1131.17M421.26,1114.5L424.51,1110.94M302.85,1103.02L306.55,1099.18M393.1,1108.36L398.98,1105.11M376.67,1115.07L381.76,1112.84M312.52,1122.39L318.35,1120.01M339.21,1122.05L342.21,1118.98M442.25,1107.73L448.13,1104.44M426.48,1114.43L431.06,1111.34M306.76,1115.97L311.88,1113.35M305.71,1115.98L311.37,1112.69M314.02,1102.87L319.02,1099.02M334.43,1096.11L339.52,1092.68M353.42,1115.37L357.02,1111.77M406.21,1121.19L409.41,1118.2M330.74,1102.66L334.43,1100.22M409.2,1108.15L412.53,1104.9M388.13,1101.92L392.59,1098.1M310.56,1122.42L314,1119.63M332.49,1122.14L335.92,1120.03M311.08,1115.91L315.43,1112.49M346.68,1095.95L352.67,1092.09M348.79,1102.43L353.74,1099.38M368.17,1108.68L373.17,1105.92M355.04,1108.85L359.37,1106.63M313.62,1096.38L317.68,1092.47M229.8,1155.4L512,1152M295.38,1141.61L495.67,1139.2M297.74,1148.08L505.96,1145.57M315.07,1160.87L498.08,1158.67M304.09,1167.5L511.17,1165.01M300.35,1141.55L303.47,1167.55M306.06,1141.48L309.18,1167.48M311.76,1141.41L314.88,1167.41M318.88,1141.33L322,1167.33M322.29,1141.29L325.41,1167.29M326.07,1141.24L329.19,1167.24M329.49,1141.2L326.37,1167.2M333.63,1141.15L330.51,1167.15M337.42,1141.1L334.3,1167.1M342.29,1141.04L345.41,1167.04M346.26,1141L349.38,1167M351.23,1140.94L348.11,1166.94M355.03,1140.89L358.15,1166.89M359.95,1140.83L363.07,1166.83M363.31,1140.79L360.19,1166.79M366.71,1140.75L363.59,1166.75M370.25,1140.71L373.37,1166.71M375.22,1140.65L378.34,1166.65M379.9,1140.59L383.02,1166.59M384.63,1140.53L381.51,1166.53M389.55,1140.48L386.43,1166.48M392.93,1140.43L396.05,1166.43M397.67,1140.38L394.55,1166.38M402.05,1140.32L405.17,1166.32M406.86,1140.27L409.98,1166.27M410.82,1140.22L407.7,1166.22M415.04,1140.17L418.16,1166.17M419.67,1140.11L416.55,1166.11M423.71,1140.06L420.59,1166.06M427.88,1140.01L431,1166.01M431.51,1139.97L434.63,1165.97M436.36,1139.91L433.24,1165.91M442.25,1139.84L439.13,1165.84M447.99,1139.77L451.11,1165.77M454.48,1139.69L457.6,1165.69M460.13,1139.62L457.01,1165.62M466.42,1139.55L463.3,1165.55M473.56,1139.46L470.44,1165.46M480.79,1139.38L483.91,1165.38M486.75,1139.3L489.87,1165.3M492.92,1139.23L496.04,1165.23M498.64,1139.16L495.52,1165.16M504.32,1139.09L501.2,1165.09M234.74,1140.41L230.8,1170.74M249.36,1138.29L245.4,1168.79M260.76,1141.43L256.93,1170.9M270.12,1136.4L274.24,1168.13M285.26,1141.45L281.37,1171.36M299.52,1136.01L295.13,1169.82M308.7,1137.81L313.16,1172.07M325.43,1140.63L321.5,1170.85M331.14,1140.98L327.46,1169.24M332.2,1140.92L336.18,1171.54M342.65,1136.16L338.32,1169.52M343.79,1140.54L347.26,1167.19M349.29,1140.56L352.8,1167.55M358.49,1137.04L354.54,1167.42M359.05,1138.36L362.98,1168.52M368.07,1138.88L364.01,1170.16M369.62,1140.59L373.61,1171.29M379.49,1138.28L375.49,1169.05M381.57,1135.13L385.98,1169.09M388.03,1137L392.14,1168.66M397.97,1140.31L394.15,1169.7M400.32,1139.79L404.25,1170.06M409.1,1139.39L405.38,1167.96M414.62,1139.54L410.77,1169.14M420.94,1138.31L416.67,1171.14M421.57,1138.18L425.67,1169.71M431.7,1134.57L427.13,1169.72M437.71,1136.08L433.16,1171.06M450.44,1134.79L446.27,1166.87M456.33,1134.01L460.56,1166.58M471.96,1138.02L467.82,1169.85M486.36,1134.03L481.63,1170.39M495.03,1138.48L498.97,1168.78M506.85,1135.14L510.98,1166.88M315.29,1133.43L314.46,1140.38M314.46,1168.38L313.64,1175.22M322.18,1134.4L321.47,1140.3M321.47,1168.3L320.87,1173.31M330.71,1132.87L329.83,1140.19M329.83,1168.19L328.96,1175.43M338.25,1131.01L337.16,1140.11M337.16,1168.11L336.06,1177.29M345.87,1133.01L345.03,1140.01M345.03,1168.01L344.39,1173.35M352.46,1133.11L351.64,1139.93M351.64,1167.93L350.56,1176.94M359.64,1131.56L358.65,1139.85M358.65,1167.85L358.02,1173.05M365.77,1130.17L364.61,1139.78M364.61,1167.78L363.83,1174.34M372.88,1134.28L372.23,1139.68M372.23,1167.68L371.18,1176.44M381.33,1131.32L380.34,1139.59M380.34,1167.59L379.27,1176.51M386.65,1134.19L386.01,1139.52M386.01,1167.52L385.04,1175.59M394.21,1133.88L393.55,1139.43M393.55,1167.43L392.87,1173.09M402.4,1132.89L401.63,1139.33M401.63,1167.33L400.54,1176.38M410.47,1130.8L409.45,1139.24M409.45,1167.24L408.42,1175.84M416.77,1130L415.67,1139.16M415.67,1167.16L414.71,1175.21M422.77,1132.47L421.98,1139.08M421.98,1167.08L421.01,1175.15M430.99,1131.7L430.11,1138.99M430.11,1166.99L429.36,1173.26M382.2,1166.56L385.99,1163.55M359.48,1140.84L363.08,1138.03M404.28,1153.3L409.32,1149.51M338.27,1154.09L341.61,1151.03M404.24,1153.3L410.14,1150.39M388.04,1140.49L391.79,1137.42M435.33,1152.92L439.12,1148.94M395.93,1153.4L399.92,1151.24M346.92,1166.99L352.15,1164.89M430.14,1152.99L434.07,1149.05M437.26,1152.9L442.46,1149.41M345.73,1154L350.58,1151.14M386.8,1140.51L390.19,1138.05M406.61,1140.27L409.78,1137.14M357.32,1166.86L361.39,1164.42M396.8,1166.39L400.21,1163.66M431.36,1146.47L434.76,1142.6M348.83,1147.47L353.18,1145.34M334.88,1154.13L339.08,1151.61M316.08,1167.36L321.76,1164.17M396.08,1166.4L401.89,1162.93M349.52,1140.96L352.65,1137.89M371.75,1147.19L375.22,1143.37M329.26,1167.2L333.92,1163.32M334.53,1147.64L339.09,1144.35M244.7,1200.3L523,1197M323.95,1186.36L516.07,1184.08M322.99,1192.87L514.51,1190.6M307.7,1206.05L512.55,1203.62M333.59,1212.25L510.91,1210.14M314.27,1186.47L317.39,1212.47M321.34,1186.39L318.22,1212.39M327.51,1186.32L330.63,1212.32M334.65,1186.23L337.77,1212.23M338.14,1186.19L341.26,1212.19M341.8,1186.15L338.68,1212.15M345.6,1186.1L342.48,1212.1M349.16,1186.06L352.28,1212.06M353.72,1186.01L356.84,1212.01M358.15,1185.95L361.27,1211.95M362.66,1185.9L365.78,1211.9M366.52,1185.86L363.4,1211.86M370.02,1185.81L366.9,1211.81M373.67,1185.77L370.55,1211.77M378.44,1185.71L375.32,1211.71M383.39,1185.66L386.51,1211.66M387.07,1185.61L390.19,1211.61M390.98,1185.57L387.86,1211.57M394.98,1185.52L398.1,1211.52M399.13,1185.47L396.01,1211.47M403.93,1185.41L407.05,1211.41M408.9,1185.35L405.78,1211.35M413.22,1185.3L416.34,1211.3M417.9,1185.25L421.02,1211.25M422.31,1185.19L419.19,1211.19M426.62,1185.14L423.5,1211.14M430.22,1185.1L427.1,1211.1M433.77,1185.06L430.65,1211.06M437.71,1185.01L434.59,1211.01M442.24,1184.96L439.12,1210.96M445.67,1184.92L442.55,1210.92M452.69,1184.83L449.57,1210.83M458.06,1184.77L461.18,1210.77M463.78,1184.7L460.66,1210.7M471.26,1184.61L474.38,1210.61M476.74,1184.55L473.62,1210.55M482.47,1184.48L479.35,1210.48M487.76,1184.42L484.64,1210.42M495.1,1184.33L498.22,1210.33M501.55,1184.25L498.43,1210.25M507,1184.19L503.88,1210.19M512.97,1184.12L516.09,1210.12M519.27,1184.04L516.15,1210.04M245.97,1186.97L249.98,1217.82M259.32,1181.99L263.84,1216.81M269.7,1186.8L273.51,1216.09M279.25,1182.64L283.6,1216.09M294.27,1183.29L290.22,1214.46M305.74,1184.87L301.55,1217.1M311.61,1183.54L315.76,1215.43M329.55,1180.52L324.95,1215.88M339.16,1182.69L343.11,1213.11M349.57,1183.09L345.72,1212.74M355.37,1183.07L350.83,1217.96M361.11,1182.18L356.96,1214.08M361.83,1180.53L366.48,1216.35M371.52,1183.59L367.61,1213.64M376.87,1183.48L372.5,1217.06M378.01,1184.94L381.95,1215.26M387.67,1183.54L383.77,1213.59M388.25,1181.6L392.72,1216.02M393,1181.38L397.12,1213.06M398.09,1182.68L402.52,1216.77M406.96,1183.79L402.78,1215.93M413.53,1180.98L408.83,1217.17M415.45,1184.29L419.21,1213.22M423.9,1184.21L419.88,1215.14M429.37,1179.24L424.61,1215.91M431.02,1183.43L434.7,1211.72M437.48,1183.75L441.33,1213.32M441.45,1179.81L445.84,1213.56M446.65,1182.1L450.5,1211.73M459.5,1184.7L463.07,1212.19M472.54,1179.49L477.1,1214.58M489.84,1180.34L485.43,1214.27M497.51,1182.72L501.64,1214.48M515.59,1179.42L511.05,1214.39M328.94,1179.06L328.19,1185.31M328.19,1213.31L327.34,1220.43M336.04,1177.12L335.06,1185.23M335.06,1213.23L334.22,1220.28M343.71,1175.49L342.56,1185.14M342.56,1213.14L341.85,1219.05M351.05,1176.16L349.99,1185.05M349.99,1213.05L349.15,1220M358.14,1175.1L356.96,1184.97M356.96,1212.97L356.34,1218.16M364.78,1179.08L364.08,1184.88M364.08,1212.88L363.01,1221.79M373.23,1177.19L372.31,1184.79M372.31,1212.79L371.65,1218.29M380.45,1177L379.52,1184.7M379.52,1212.7L378.49,1221.29M387.54,1176.42L386.56,1184.62M386.56,1212.62L385.46,1221.76M394.46,1177.48L393.62,1184.53M393.62,1212.53L392.45,1222.27M400.82,1176.04L399.81,1184.46M399.81,1212.46L398.97,1219.42M408.22,1178.76L407.54,1184.37M407.54,1212.37L406.35,1222.29M414.77,1179.01L414.14,1184.29M414.14,1212.29L413.37,1218.66M421.46,1179.14L420.86,1184.21M420.86,1212.21L420.01,1219.3M428.65,1175.64L427.63,1184.13M427.63,1212.13L426.82,1218.89M434.71,1177.93L433.98,1184.06M433.98,1212.06L432.93,1220.76M443.12,1176.32L442.21,1183.96M442.21,1211.96L441.48,1218.05M382.73,1192.16L386.23,1188.3M337.78,1192.7L342.18,1189.57M359.64,1192.44L363.7,1189.16M442.12,1204.46L446.52,1201.87M404.48,1191.91L409.82,1188.97M437.23,1191.52L441.03,1188.76M363.47,1205.39L368.51,1202.43M440.27,1197.98L444.34,1194.67M372.76,1205.28L377.05,1202.01M419.93,1198.22L423.38,1195.62M381.78,1185.67L387.26,1181.86M437.29,1191.52L441.88,1188.83M409.24,1185.35L412.87,1183.2M368.96,1211.83L372.26,1209.54M360.7,1205.42L364.74,1203.12M453.99,1210.82L457.5,1207.04M412.84,1185.31L417.85,1181.52M437.85,1198.01L441.44,1194.62M402.05,1204.93L407.06,1202.7M344.67,1205.61L348.37,1203.34M396.8,1185.5L401.25,1181.69M425.65,1191.65L430.15,1188.58M448.26,1184.89L451.74,1182.24M425.02,1204.66L430.02,1200.98M380.37,1205.19L386.37,1201.84M256,1245L534,1242M322.18,1231.29L527.99,1229.06M335.13,1237.65L533.66,1235.5M318.44,1250.83L521.71,1248.63M344.93,1257.04L520.51,1255.15M325.5,1231.25L322.38,1257.25M332.03,1231.18L335.15,1257.18M339.2,1231.1L336.08,1257.1M344.48,1231.05L347.6,1257.05M348.89,1231L352.01,1257M352.41,1230.96L355.53,1256.96M356.35,1230.92L353.23,1256.92M360.18,1230.88L363.3,1256.88M364.25,1230.83L361.13,1256.83M369,1230.78L372.12,1256.78M372.96,1230.74L376.08,1256.74M377,1230.69L380.12,1256.69M381.82,1230.64L384.94,1256.64M386.82,1230.59L389.94,1256.59M391.51,1230.54L394.63,1256.54M395.2,1230.5L398.32,1256.5M398.77,1230.46L395.65,1256.46M403.45,1230.41L400.33,1256.41M407.48,1230.37L410.6,1256.37M411.75,1230.32L408.63,1256.32M415.78,1230.28L412.66,1256.28M419.15,1230.24L416.03,1256.24M423.89,1230.19L427.01,1256.19M428.28,1230.14L425.16,1256.14M432.96,1230.09L436.08,1256.09M437.36,1230.04L434.24,1256.04M441.08,1230L444.2,1256M445.49,1229.96L442.37,1255.96M449.02,1229.92L445.9,1255.92M453.84,1229.87L456.96,1255.87M458.5,1229.81L455.38,1255.81M464.66,1229.75L461.54,1255.75M471.9,1229.67L475.02,1255.67M479.34,1229.59L476.22,1255.59M485.64,1229.52L488.76,1255.52M490.89,1229.47L487.77,1255.47M497.39,1229.4L494.27,1255.4M504.73,1229.32L507.85,1255.32M511.43,1229.24L514.55,1255.24M517.79,1229.17L514.67,1255.17M524.76,1229.1L521.64,1255.1M256.88,1228.67L260.75,1258.47M273.05,1228.08L268.84,1260.4M282.97,1225.82L278.15,1262.89M292.95,1230.85L289.46,1257.73M306.25,1228.78L301.94,1261.94M315.95,1226.68L320.49,1261.61M333.87,1229.42L329.82,1260.53M341.54,1225.57L345.67,1257.37M350.11,1230.91L346.21,1260.91M356.6,1228.6L352.67,1258.81M358.16,1227.22L362.26,1258.77M364.76,1227.99L368.63,1257.8M375.31,1228.55L371.15,1260.6M377.06,1227.81L381.42,1261.34M382.22,1225.91L386.65,1260.01M391.74,1226.83L387.37,1260.46M393.36,1225.27L397.99,1260.85M402.32,1226.84L398.23,1258.3M407.49,1228.13L403.28,1260.5M413.55,1225.48L409.32,1258.02M413.73,1228.67L417.45,1257.22M423.97,1228.48L420.26,1257.05M430.32,1228.5L426.06,1261.25M432.63,1227.99L436.35,1256.58M438.37,1228.81L442.49,1260.51M448.59,1228.09L444.93,1256.29M454.34,1224.33L449.78,1259.4M454.3,1227.08L458.11,1256.36M471.7,1228.3L467.68,1259.17M481.67,1226.68L485.88,1259.08M496,1228.88L491.92,1260.26M503.22,1226.9L507.32,1258.41M517.95,1223.66L513.47,1258.16M527.12,1225.25L531.61,1259.77M340.36,1222.11L339.4,1230.1M339.4,1258.1L338.59,1264.82M347.07,1224.92L346.45,1230.02M346.45,1258.02L345.83,1263.19M355.95,1220.6L354.83,1229.93M354.83,1257.93L353.94,1265.37M362.77,1223.55L362.02,1229.86M362.02,1257.86L360.95,1266.75M369.98,1220.05L368.81,1229.78M368.81,1257.78L367.75,1266.62M377.88,1219.88L376.7,1229.7M376.7,1257.7L375.95,1263.97M383.13,1223.63L382.41,1229.64M382.41,1257.64L381.7,1263.54M388.87,1224.32L388.24,1229.57M388.24,1257.57L387.31,1265.36M397.15,1222.19L396.28,1229.49M396.28,1257.49L395.11,1267.22M405.07,1224.08L404.43,1229.4M404.43,1257.4L403.47,1265.39M411.81,1223.73L411.14,1229.33M411.14,1257.33L409.96,1267.12M418.4,1221.44L417.46,1229.26M417.46,1257.26L416.48,1265.46M426.74,1220.82L425.74,1229.17M425.74,1257.17L424.9,1264.13M433.29,1223.3L432.59,1229.09M432.59,1257.09L431.41,1266.92M441.7,1222.9L440.97,1229M440.97,1257L440.35,1262.2M448.1,1222.18L447.29,1228.94M447.29,1256.94L446.14,1266.45M456.52,1219.66L455.42,1228.85M455.42,1256.85L454.79,1262.08M438.04,1249.54L441.2,1247.25M444.34,1236.47L449.37,1233.87M421.61,1230.21L426.03,1227.47M393.62,1243.51L398.06,1241.18M372.55,1237.24L378.29,1233.46M404.44,1236.9L409.83,1234.58M455.16,1229.85L460.97,1226.12M462.93,1236.27L468.27,1232.35M468.11,1249.21L473.63,1245.95M402.27,1243.42L406.24,1240.95M355.47,1243.93L358.9,1241.48M347.28,1250.51L351.95,1248.23M460.43,1242.79L464.69,1240.3M342.93,1257.06L348.45,1254.39M362.72,1250.35L366.05,1247.44M406.46,1236.88L412.39,1234.76M463.81,1236.26L468.49,1232.59M355.97,1237.42L361.88,1234.56M375.75,1237.21L381.53,1235.01M379.63,1237.17L382.8,1233.71M380.2,1230.66L384.53,1227.64M410.4,1249.83L413.4,1246.17M412.6,1236.81L416.68,1234.73M396.24,1243.49L400.96,1241.21M364.44,1237.33L369.57,1234.94M271,1293.7L549,1290M334.36,1279.86L547.54,1277.02M349.08,1286.16L540.74,1283.61M339.77,1299.28L545.56,1296.55M349.19,1305.66L537.19,1303.16M340.5,1279.78L337.38,1305.78M347.22,1279.69L344.1,1305.69M352.44,1279.62L355.56,1305.62M359.83,1279.52L356.71,1305.52M364.06,1279.46L367.18,1305.46M367.98,1279.41L371.1,1305.41M371.49,1279.36L374.61,1305.36M376.38,1279.3L379.5,1305.3M379.97,1279.25L383.09,1305.25M383.74,1279.2L386.86,1305.2M387.17,1279.15L390.29,1305.15M391.49,1279.1L388.37,1305.1M395.45,1279.04L398.57,1305.04M400.44,1278.98L397.32,1304.98M404,1278.93L400.88,1304.93M408.73,1278.87L411.85,1304.87M413.4,1278.8L416.52,1304.8M417.73,1278.75L414.61,1304.75M421.58,1278.7L418.46,1304.7M426.54,1278.63L429.66,1304.63M430.65,1278.58L427.53,1304.58M434.9,1278.52L431.78,1304.52M438.3,1278.47L435.18,1304.47M442.03,1278.42L438.91,1304.42M445.68,1278.38L448.8,1304.38M449.46,1278.32L446.34,1304.32M452.85,1278.28L449.73,1304.28M456.65,1278.23L459.77,1304.23M460.89,1278.17L464.01,1304.17M464.42,1278.13L461.3,1304.13M468.98,1278.06L465.86,1304.06M472.8,1278.01L475.92,1304.01M479.29,1277.93L482.41,1303.93M484.77,1277.85L481.65,1303.85M491.03,1277.77L487.91,1303.77M497.64,1277.68L494.52,1303.68M505.07,1277.58L501.95,1303.58M512.01,1277.49L515.13,1303.49M519.15,1277.4L516.03,1303.4M526.82,1277.3L523.7,1303.3M534.46,1277.19L537.58,1303.19M541.46,1277.1L538.34,1303.1M276.3,1276L272.05,1308.69M282.51,1276.22L287.1,1311.58M294.74,1275.46L299.41,1311.44M309.36,1274.47L304.5,1311.83M315.51,1276.1L319.42,1306.15M329.58,1279.53L325.81,1308.54M341.73,1278.43L337.84,1308.31M349.18,1275.83L353.69,1310.49M366.93,1279.24L363.02,1309.3M368.02,1275.61L372.52,1310.22M376.56,1277.82L372.58,1308.44M381.95,1277.52L378.1,1307.08M387.59,1278.81L383.42,1310.93M390.53,1278.58L394.43,1308.63M396.95,1278.26L400.52,1305.79M401.64,1275.47L405.68,1306.58M407.45,1273.81L411.96,1308.51M413.6,1277.57L417.7,1309.04M418.7,1275.03L422.92,1307.52M427.9,1276.64L424.11,1305.77M429.85,1278.49L433.51,1306.68M439.79,1276.54L435.9,1306.43M444.76,1276.64L440.55,1309.05M449.75,1274.71L445.63,1306.44M451.09,1273.27L455.4,1306.4M461.98,1272.26L457.3,1308.26M464.02,1276.08L467.93,1306.22M469.52,1273.1L473.95,1307.13M483.1,1276.24L487.18,1307.64M499.65,1275.21L495.86,1304.3M511.28,1274.54L506.76,1309.31M519.2,1272.27L523.46,1305.04M536.12,1274.92L532.09,1305.91M544.01,1275.28L547.93,1305.38M355.23,1271.67L354.4,1278.59M354.4,1306.59L353.61,1313.2M363.31,1269.24L362.2,1278.49M362.2,1306.49L361.3,1313.98M369.76,1272.47L369.05,1278.4M369.05,1306.4L368.26,1312.92M376,1270.44L375.05,1278.32M375.05,1306.32L374.1,1314.22M382.05,1268.64L380.9,1278.24M380.9,1306.24L380.1,1312.86M389.96,1268.94L388.86,1278.13M388.86,1306.13L387.69,1315.93M395.89,1270.92L395.03,1278.05M395.03,1306.05L393.89,1315.6M401.29,1272.74L400.66,1277.97M400.66,1305.97L399.72,1313.8M408.81,1268.28L407.66,1277.88M407.66,1305.88L406.59,1314.75M415.96,1267.79L414.76,1277.79M414.76,1305.79L413.85,1313.37M422.82,1269.27L421.81,1277.69M421.81,1305.69L420.98,1312.64M429.37,1269.63L428.41,1277.6M428.41,1305.6L427.6,1312.36M437.67,1269.11L436.67,1277.5M436.67,1305.5L435.75,1313.12M443.37,1270.54L442.54,1277.42M442.54,1305.42L441.7,1312.42M450.66,1269.45L449.72,1277.32M449.72,1305.32L448.59,1314.72M458.91,1269.78L458.02,1277.21M458.02,1305.21L457.15,1312.41M466.56,1267.13L465.37,1277.11M465.37,1305.11L464.56,1311.83M467.81,1284.58L471.9,1281.85M364.84,1292.45L369.37,1290.23M478.74,1290.94L484.2,1286.95M477.85,1297.45L482.75,1294.4M467.85,1284.58L472.36,1282.2M379.75,1305.25L384.56,1302.55M492.53,1277.75L497.61,1275.73M354.79,1305.58L357.8,1302.98M471.46,1304.03L474.51,1301.97M378.75,1305.27L383.45,1301.52M478.88,1303.93L484.87,1300.78M411.54,1278.83L414.98,1275.79M425.22,1278.65L428.52,1276.31M427.03,1298.12L431.87,1294.51M363.03,1279.48L368.09,1276.32M374.41,1285.82L378.47,1283.48M391.46,1279.1L397.04,1275.2M363.16,1285.97L367.51,1283.2M362,1298.99L366.75,1295.07M415.51,1304.78L419.22,1302.33M376.56,1305.3L382.12,1302.67M479.34,1297.43L483.25,1294.22M487.84,1297.31L493.78,1295.18M448.54,1304.34L452.21,1301.72M476.07,1297.47L479.14,1293.73M282,1338.5L562.4,1335M346.14,1324.7L559.54,1322.04M354.32,1331.1L562.27,1328.5M368.43,1343.92L555.74,1341.58M353.86,1350.6L556.76,1348.07M352.1,1324.62L355.22,1350.62M358.17,1324.55L355.05,1350.55M365.87,1324.45L368.99,1350.45M373.22,1324.36L376.34,1350.36M377.51,1324.31L380.63,1350.31M381.19,1324.26L384.31,1350.26M385.13,1324.21L388.25,1350.21M388.55,1324.17L385.43,1350.17M392.48,1324.12L389.36,1350.12M396.25,1324.07L393.13,1350.07M399.76,1324.03L402.88,1350.03M404.04,1323.98L400.92,1349.98M408.33,1323.92L411.45,1349.92M413.1,1323.86L409.98,1349.86M416.72,1323.82L419.84,1349.82M420.45,1323.77L423.57,1349.77M424.44,1323.72L421.32,1349.72M428.3,1323.67L431.42,1349.67M432.51,1323.62L429.39,1349.62M437.31,1323.56L434.19,1349.56M442.25,1323.5L445.37,1349.5M446.61,1323.45L449.73,1349.45M450.96,1323.39L454.08,1349.39M455.22,1323.34L458.34,1349.34M459.6,1323.28L456.48,1349.28M463.17,1323.24L460.05,1349.24M467.67,1323.18L464.55,1349.18M471.94,1323.13L475.06,1349.13M476.54,1323.07L479.66,1349.07M479.95,1323.03L476.83,1349.03M483.83,1322.98L486.95,1348.98M488.38,1322.92L485.26,1348.92M495.6,1322.83L492.48,1348.83M501.64,1322.76L498.52,1348.76M507.01,1322.69L510.13,1348.69M514.31,1322.6L517.43,1348.6M520.01,1322.53L523.13,1348.53M525.44,1322.46L528.56,1348.46M530.96,1322.39L534.08,1348.39M536.9,1322.32L540.02,1348.32M544.29,1322.23L547.41,1348.23M551.51,1322.14L548.39,1348.14M559.14,1322.04L556.02,1348.04M282.61,1320.08L286.71,1351.61M296.09,1323.81L300.33,1356.38M311.1,1324.07L307.49,1351.85M325.5,1320.71L321.53,1351.23M335.07,1322.28L330.76,1355.4M345.51,1321.42L341.21,1354.51M359.65,1321.14L355.26,1354.86M366.12,1320.4L370.47,1353.87M377.13,1319.34L372.5,1355M382.19,1319.03L377.68,1353.79M387.97,1320.12L384.03,1350.43M388.58,1319.64L392.61,1350.66M394.31,1318.08L398.95,1353.76M403.63,1321.91L399.24,1355.7M404.81,1319.79L409.31,1354.37M411.18,1320.81L415.48,1353.92M420.19,1320.86L416.28,1350.94M422.79,1322.67L426.43,1350.7M432.85,1320.38L428.85,1351.14M433.3,1321.5L437.03,1350.14M442.86,1322.7L438.82,1353.76M449.18,1319.21L445.24,1349.48M455.28,1317.75L450.9,1351.48M460.07,1319.78L456.04,1350.75M465.82,1319.94L461.42,1353.8M470.63,1319.58L466.43,1351.94M476.34,1322.41L472.65,1350.83M481.48,1322.77L477.37,1354.41M487.06,1318.76L482.78,1351.66M492.93,1320.17L497.1,1352.26M507.68,1322.43L503.9,1351.52M518.5,1322.02L522.51,1352.83M532.79,1321.69L536.63,1351.28M548.55,1317.5L544.31,1350.13M559.76,1318.19L555.39,1351.83M367.11,1315.19L366.12,1323.45M366.12,1351.45L365.37,1357.71M373.09,1317.68L372.41,1323.37M372.41,1351.37L371.79,1356.51M381.28,1314.08L380.18,1323.27M380.18,1351.27L379.4,1357.76M387.28,1315.01L386.3,1323.2M386.3,1351.2L385.19,1360.43M395.19,1317.25L394.49,1323.1M394.49,1351.1L393.42,1360.02M403.46,1314.29L402.42,1323M402.42,1351L401.62,1357.63M409.63,1313.79L408.53,1322.92M408.53,1350.92L407.74,1357.52M416.1,1315.08L415.17,1322.84M415.17,1350.84L414.34,1357.68M423.84,1316.54L423.09,1322.74M423.09,1350.74L422.47,1355.95M431.26,1314.51L430.28,1322.65M430.28,1350.65L429.19,1359.75M439,1313.03L437.86,1322.55M437.86,1350.55L436.69,1360.28M445.74,1314.97L444.84,1322.47M444.84,1350.47L444.15,1356.25M452.23,1314.48L451.28,1322.39M451.28,1350.39L450.63,1355.79M459.5,1316.47L458.81,1322.29M458.81,1350.29L457.94,1357.51M467.78,1316.74L467.12,1322.19M467.12,1350.19L466.5,1355.39M474.67,1316.15L473.95,1322.1M473.95,1350.1L472.92,1358.72M480.66,1312.83L479.56,1322.03M479.56,1350.03L478.45,1359.31M425.77,1336.71L428.98,1334.59M465.77,1336.21L468.96,1334.19M500.15,1329.28L505.86,1326.95M407.58,1343.43L413,1340.08M445.69,1342.96L448.94,1340.31M430.68,1349.64L436.4,1345.91M502.73,1348.74L507.59,1345.12M374.53,1337.34L379.36,1334.75M446.19,1336.45L450.63,1333.16M408.08,1336.93L412.67,1333.66M485.03,1329.47L490.06,1326.57M378.07,1350.3L382.18,1347.14M424.5,1349.72L428.22,1346.84M402.72,1330.49L406.27,1326.71M442.97,1323.49L446.63,1319.82M457.2,1329.81L461.8,1327.31M434.72,1349.59L439.09,1346.51M463.8,1349.23L469.53,1346.1M485.51,1322.96L490.91,1320.69M436.66,1349.57L441.8,1346.06M382.19,1350.25L385.5,1346.59M421.07,1330.26L426.98,1327.88M432.73,1323.62L436.14,1320.07M374.19,1330.85L377.33,1328.77M464.53,1329.72L468.91,1327.48" stroke="#858585" stroke-width="1.05" fill="none"/>
<g fill="#ff7070"><circle cx="485.47" cy="1061.19" r="0.7"/><circle cx="503.74" cy="1172.87" r="0.7"/><circle cx="521.15" cy="1241.03" r="0.8"/><circle cx="479.26" cy="1114.41" r="0.7"/><circle cx="291.21" cy="1219.9" r="1.0"/><circle cx="393.02" cy="1148.03" r="1.0"/><circle cx="261.2" cy="1196.01" r="1.0"/><circle cx="375.4" cy="1052.92" r="0.7"/><circle cx="479.88" cy="1037.85" r="0.8"/><circle cx="278.01" cy="1088.56" r="1.2"/><circle cx="502.66" cy="1034.9" r="1.2"/><circle cx="217.87" cy="1056.12" r="0.7"/><circle cx="286.72" cy="1046.96" r="0.8"/><circle cx="325.09" cy="1157.48" r="1.2"/><circle cx="431.53" cy="1222.33" r="1.0"/><circle cx="443.99" cy="1153.84" r="1.0"/><circle cx="265.94" cy="1248.22" r="1.0"/><circle cx="410.7" cy="1258.73" r="1.2"/><circle cx="497.38" cy="1230.8" r="0.7"/><circle cx="395.37" cy="1047.16" r="1.2"/><circle cx="545.7" cy="1223.88" r="1.2"/><circle cx="490.32" cy="1120.49" r="0.7"/><circle cx="384.94" cy="1113.01" r="1.0"/><circle cx="435.27" cy="1235.62" r="0.7"/><circle cx="463.22" cy="1078.62" r="1.2"/><circle cx="365.2" cy="1106.21" r="1.0"/><circle cx="324.31" cy="1102.3" r="1.2"/><circle cx="230.98" cy="1106.77" r="1.2"/><circle cx="440.04" cy="1231.54" r="0.8"/><circle cx="291.56" cy="1197.2" r="1.2"/><circle cx="371.19" cy="1092.87" r="1.0"/><circle cx="398.27" cy="1112.07" r="0.8"/><circle cx="274.64" cy="1258.2" r="0.7"/><circle cx="489.5" cy="1230.65" r="0.7"/><circle cx="311.05" cy="1113.47" r="0.8"/><circle cx="538.83" cy="1230.75" r="0.7"/><circle cx="452.03" cy="1099.92" r="1.0"/><circle cx="425.92" cy="1147.05" r="1.0"/><circle cx="471.94" cy="1230.76" r="1.0"/><circle cx="309.56" cy="1043.9" r="1.0"/><circle cx="492.65" cy="1233.24" r="1.0"/><circle cx="501.28" cy="1235.67" r="1.0"/><circle cx="275.43" cy="1064.69" r="1.2"/><circle cx="347.93" cy="1123.15" r="1.0"/><circle cx="436.68" cy="1243.78" r="0.8"/><circle cx="315.43" cy="1099.34" r="1.0"/><circle cx="266.25" cy="1046.91" r="0.7"/><circle cx="331.2" cy="1164.53" r="1.0"/><circle cx="371.22" cy="1257.12" r="1.2"/><circle cx="524.7" cy="1195.88" r="1.2"/><circle cx="276.52" cy="1103.43" r="1.0"/><circle cx="465.16" cy="1155.69" r="1.0"/><circle cx="225.02" cy="1084.49" r="0.7"/><circle cx="288.88" cy="1121.9" r="1.0"/><circle cx="451.14" cy="1228.74" r="0.8"/><circle cx="236.33" cy="1085.6" r="0.8"/><circle cx="264.68" cy="1168.23" r="1.0"/><circle cx="249.5" cy="1195.37" r="1.0"/><circle cx="499.67" cy="1153.5" r="1.0"/><circle cx="323.91" cy="1242.26" r="1.0"/><circle cx="265.05" cy="1229.58" r="1.2"/><circle cx="432.82" cy="1123.22" r="1.0"/><circle cx="474.24" cy="1070.14" r="0.7"/><circle cx="393.84" cy="1050.06" r="1.2"/><circle cx="384.01" cy="1257.2" r="1.2"/><circle cx="264.99" cy="1230.86" r="1.0"/><circle cx="534.93" cy="1159.75" r="0.7"/><circle cx="442.76" cy="1125.48" r="1.0"/><circle cx="219.76" cy="1066.04" r="0.8"/><circle cx="443.49" cy="1062.81" r="0.7"/><circle cx="334.79" cy="1112.3" r="1.0"/><circle cx="413.69" cy="1153.89" r="0.8"/><circle cx="424.75" cy="1181.19" r="1.0"/><circle cx="404.19" cy="1082.9" r="1.2"/><circle cx="483.45" cy="1205.56" r="1.0"/><circle cx="408.78" cy="1179.88" r="1.2"/><circle cx="346.79" cy="1158.64" r="1.0"/><circle cx="215.4" cy="1060.33" r="1.2"/><circle cx="453.52" cy="1052.95" r="1.0"/><circle cx="402.48" cy="1064.64" r="1.2"/><circle cx="277.22" cy="1204.02" r="0.7"/><circle cx="278.98" cy="1173.66" r="0.8"/><circle cx="292.69" cy="1157.71" r="1.0"/><circle cx="519.96" cy="1199.65" r="0.8"/><circle cx="341.78" cy="1151.55" r="0.8"/><circle cx="489.26" cy="1131.56" r="0.8"/><circle cx="346.27" cy="1176.31" r="1.2"/><circle cx="329.57" cy="1135.82" r="0.7"/><circle cx="431.25" cy="1054.79" r="0.7"/><circle cx="527.36" cy="1215.55" r="1.0"/><circle cx="377.62" cy="1043.8" r="1.2"/><circle cx="371.96" cy="1238.61" r="0.8"/><circle cx="212.83" cy="1037.06" r="1.2"/><circle cx="325.59" cy="1085.62" r="1.0"/><circle cx="443.21" cy="1204.61" r="1.0"/><circle cx="407.21" cy="1232.27" r="0.8"/><circle cx="513.62" cy="1139.8" r="1.0"/><circle cx="303.09" cy="1249.48" r="1.0"/><circle cx="321.2" cy="1094.99" r="1.2"/><circle cx="332.11" cy="1230.58" r="1.0"/><circle cx="425.08" cy="1187.04" r="1.2"/><circle cx="233.15" cy="1078.78" r="0.8"/><circle cx="476.59" cy="1225.81" r="0.7"/><circle cx="510.65" cy="1209.36" r="0.8"/><circle cx="272.84" cy="1130.01" r="1.0"/><circle cx="487.46" cy="1187.59" r="0.8"/><circle cx="266.16" cy="1254.1" r="1.0"/><circle cx="434.63" cy="1064.68" r="0.7"/><circle cx="389.27" cy="1202.8" r="1.2"/><circle cx="312.04" cy="1050.75" r="1.2"/><circle cx="551.68" cy="1232.85" r="0.7"/><circle cx="300.36" cy="1164.61" r="0.7"/><circle cx="358.47" cy="1038.71" r="0.8"/><circle cx="448.85" cy="1162.22" r="0.7"/><circle cx="475.86" cy="1041.11" r="0.7"/><circle cx="293.72" cy="1232.07" r="1.2"/><circle cx="420.74" cy="1253.24" r="0.7"/><circle cx="421.14" cy="1071.17" r="0.8"/><circle cx="406.48" cy="1175.64" r="0.7"/><circle cx="488.49" cy="1151.88" r="0.7"/><circle cx="290.31" cy="1110.37" r="0.8"/><circle cx="330.62" cy="1198.22" r="0.8"/><circle cx="286.37" cy="1033.5" r="0.7"/><circle cx="230.93" cy="1075.18" r="1.0"/><circle cx="318.54" cy="1091.46" r="0.7"/><circle cx="407.21" cy="1180.22" r="1.0"/><circle cx="540.97" cy="1188.77" r="1.0"/><circle cx="324.24" cy="1121.84" r="1.2"/><circle cx="273.15" cy="1118.08" r="1.2"/><circle cx="498.89" cy="1232.79" r="0.7"/><circle cx="369.45" cy="1084.99" r="1.0"/><circle cx="465.46" cy="1189.54" r="0.8"/><circle cx="453.42" cy="1219.88" r="0.7"/><circle cx="490.63" cy="1223.9" r="0.7"/><circle cx="396.71" cy="1123.34" r="1.2"/><circle cx="332.45" cy="1156.26" r="0.7"/><circle cx="427.42" cy="1138.9" r="1.2"/><circle cx="413.12" cy="1147.33" r="1.2"/><circle cx="407.71" cy="1083.92" r="1.2"/><circle cx="245.35" cy="1111.7" r="1.0"/></g>
<g fill="#ff7b7b"><circle cx="196.6" cy="1027.2" r="4.7"/><circle cx="199.3" cy="1044.5" r="6.0"/><circle cx="201.5" cy="1049.5" r="3.6"/><circle cx="204.6" cy="1062.5" r="2.7"/><circle cx="202" cy="1033.5" r="1.6"/><circle cx="209.7" cy="1025" r="4.7"/><circle cx="212.4" cy="1042.3" r="6.0"/><circle cx="214.6" cy="1047.3" r="3.6"/><circle cx="217.7" cy="1060.3" r="2.7"/><circle cx="215.1" cy="1031.3" r="1.6"/><circle cx="222.8" cy="1022.8" r="4.7"/><circle cx="225.5" cy="1040.1" r="6.0"/><circle cx="227.7" cy="1045.1" r="3.6"/><circle cx="230.8" cy="1058.1" r="2.7"/><circle cx="228.2" cy="1029.1" r="1.6"/><circle cx="235.9" cy="1020.6" r="4.7"/><circle cx="238.6" cy="1037.9" r="6.0"/><circle cx="240.8" cy="1042.9" r="3.6"/><circle cx="243.9" cy="1055.9" r="2.7"/><circle cx="241.3" cy="1026.9" r="1.6"/><circle cx="249" cy="1018.4" r="4.7"/><circle cx="251.7" cy="1035.7" r="6.0"/><circle cx="253.9" cy="1040.7" r="3.6"/><circle cx="257" cy="1053.7" r="2.7"/><circle cx="254.4" cy="1024.7" r="1.6"/><circle cx="262.1" cy="1016.2" r="4.7"/><circle cx="264.8" cy="1033.5" r="6.0"/><circle cx="267" cy="1038.5" r="3.6"/><circle cx="270.1" cy="1051.5" r="2.7"/><circle cx="267.5" cy="1022.5" r="1.6"/><circle cx="275.2" cy="1014" r="4.7"/><circle cx="277.9" cy="1031.3" r="6.0"/><circle cx="280.1" cy="1036.3" r="3.6"/><circle cx="283.2" cy="1049.3" r="2.7"/><circle cx="280.6" cy="1020.3" r="1.6"/><circle cx="288.3" cy="1011.8" r="4.7"/><circle cx="291" cy="1029.1" r="6.0"/><circle cx="293.2" cy="1034.1" r="3.6"/><circle cx="296.3" cy="1047.1" r="2.7"/><circle cx="293.7" cy="1018.1" r="1.6"/><circle cx="301.4" cy="1009.6" r="4.7"/><circle cx="304.1" cy="1026.9" r="6.0"/><circle cx="306.3" cy="1031.9" r="3.6"/><circle cx="309.4" cy="1044.9" r="2.7"/><circle cx="306.8" cy="1015.9" r="1.6"/><circle cx="316.9" cy="1032.6" r="3.2"/><circle cx="326.2" cy="1030.6" r="3.5"/><circle cx="315" cy="1024" r="1.5"/><circle cx="327" cy="1012" r="1.4"/><circle cx="310" cy="1040" r="2"/><circle cx="322" cy="1042" r="1.5"/></g>
<g fill="#1eb4ee"><circle cx="256" cy="1248" r="1.4"/><circle cx="262" cy="1258" r="1.3"/><circle cx="267.5" cy="1246" r="1.9"/><circle cx="273.5" cy="1256" r="1.3"/><circle cx="279" cy="1244" r="1.4"/><circle cx="285" cy="1254" r="1.3"/><circle cx="290.5" cy="1242" r="1.9"/><circle cx="296.5" cy="1252" r="1.3"/><circle cx="302" cy="1240" r="1.4"/><circle cx="308" cy="1250" r="1.3"/><circle cx="313.5" cy="1238" r="1.9"/><circle cx="319.5" cy="1248" r="1.3"/><circle cx="325" cy="1236" r="1.4"/><circle cx="331" cy="1246" r="1.3"/><circle cx="336.5" cy="1234" r="1.9"/><circle cx="342.5" cy="1244" r="1.3"/><circle cx="348" cy="1232" r="1.4"/><circle cx="354" cy="1242" r="1.3"/><circle cx="319.35" cy="1256.44" r="0.8"/><circle cx="262.56" cy="1261.49" r="1.0"/><circle cx="278.44" cy="1253.73" r="0.8"/><circle cx="282.54" cy="1263.32" r="1.0"/><circle cx="291.52" cy="1252.76" r="1.0"/><circle cx="278.23" cy="1233.97" r="1.0"/><circle cx="293.23" cy="1236.6" r="0.6"/><circle cx="340.4" cy="1238.02" r="0.6"/><circle cx="271.01" cy="1255.8" r="0.6"/><circle cx="322.26" cy="1262.75" r="1.0"/><circle cx="346.12" cy="1229.82" r="0.8"/><circle cx="292.99" cy="1264.27" r="0.8"/><circle cx="431" cy="1380.5" r="3.0"/><circle cx="435" cy="1382.5" r="2.7"/><circle cx="438" cy="1397.3" r="2.5"/><circle cx="463" cy="1414.3" r="1.4"/><circle cx="470" cy="1421" r="1.0"/><circle cx="444.4" cy="1378.14" r="3.0"/><circle cx="448.4" cy="1380.14" r="2.7"/><circle cx="451.1" cy="1395.1" r="2.5"/><circle cx="476.4" cy="1412.35" r="1.4"/><circle cx="483.4" cy="1419.1" r="1.0"/><circle cx="457.8" cy="1375.78" r="3.0"/><circle cx="461.8" cy="1377.78" r="2.7"/><circle cx="464.2" cy="1392.9" r="2.5"/><circle cx="489.8" cy="1410.4" r="1.4"/><circle cx="496.8" cy="1417.2" r="1.0"/><circle cx="471.2" cy="1373.42" r="3.0"/><circle cx="475.2" cy="1375.42" r="2.7"/><circle cx="477.3" cy="1390.7" r="2.5"/><circle cx="503.2" cy="1408.45" r="1.4"/><circle cx="510.2" cy="1415.3" r="1.0"/><circle cx="484.6" cy="1371.06" r="3.0"/><circle cx="488.6" cy="1373.06" r="2.7"/><circle cx="490.4" cy="1388.5" r="2.5"/><circle cx="516.6" cy="1406.5" r="1.4"/><circle cx="523.6" cy="1413.4" r="1.0"/><circle cx="498" cy="1368.7" r="3.0"/><circle cx="502" cy="1370.7" r="2.7"/><circle cx="503.5" cy="1386.3" r="2.5"/><circle cx="530" cy="1404.55" r="1.4"/><circle cx="537" cy="1411.5" r="1.0"/><circle cx="511.4" cy="1366.34" r="3.0"/><circle cx="515.4" cy="1368.34" r="2.7"/><circle cx="516.6" cy="1384.1" r="2.5"/><circle cx="543.4" cy="1402.6" r="1.4"/><circle cx="550.4" cy="1409.6" r="1.0"/><circle cx="524.8" cy="1363.98" r="3.0"/><circle cx="528.8" cy="1365.98" r="2.7"/><circle cx="529.7" cy="1381.9" r="2.5"/><circle cx="556.8" cy="1400.65" r="1.4"/><circle cx="563.8" cy="1407.7" r="1.0"/><circle cx="538.2" cy="1361.62" r="3.0"/><circle cx="542.2" cy="1363.62" r="2.7"/><circle cx="542.8" cy="1379.7" r="2.5"/><circle cx="570.2" cy="1398.7" r="1.4"/><circle cx="577.2" cy="1405.8" r="1.0"/><circle cx="344.61" cy="1376.77" r="0.5"/><circle cx="405.78" cy="1390.63" r="0.7"/><circle cx="451.19" cy="1414.18" r="0.5"/><circle cx="379.75" cy="1406.42" r="0.5"/><circle cx="501.55" cy="1424.83" r="0.5"/><circle cx="511.9" cy="1404.9" r="0.4"/><circle cx="343.47" cy="1411.73" r="0.7"/><circle cx="441.75" cy="1377.18" r="0.7"/><circle cx="407.52" cy="1383.07" r="0.5"/><circle cx="373.33" cy="1414.09" r="0.7"/><circle cx="465.46" cy="1381.05" r="0.4"/><circle cx="388.9" cy="1402.48" r="0.7"/><circle cx="393.96" cy="1385.1" r="0.4"/><circle cx="427.04" cy="1384.6" r="0.7"/><circle cx="549.08" cy="1404.99" r="0.4"/><circle cx="577.93" cy="1377.06" r="0.5"/><circle cx="407.77" cy="1403.98" r="0.4"/><circle cx="408.96" cy="1409.46" r="0.4"/><circle cx="385.62" cy="1409.19" r="0.5"/><circle cx="476.16" cy="1393.7" r="0.5"/><circle cx="411.75" cy="1389.38" r="0.7"/><circle cx="479.38" cy="1377.12" r="0.7"/><circle cx="318.37" cy="1401.91" r="0.4"/><circle cx="320.53" cy="1388.12" r="0.5"/><circle cx="452.49" cy="1390.87" r="0.5"/><circle cx="486.47" cy="1421.47" r="0.4"/><circle cx="463.41" cy="1375.93" r="0.5"/><circle cx="426.47" cy="1408.55" r="0.5"/><circle cx="318.88" cy="1379.69" r="0.5"/><circle cx="448.42" cy="1397.02" r="0.4"/><circle cx="514.73" cy="1406.87" r="0.5"/><circle cx="568.48" cy="1399.79" r="0.5"/><circle cx="523.08" cy="1400.46" r="0.5"/><circle cx="364.01" cy="1376.5" r="0.4"/><circle cx="304.49" cy="1401.41" r="0.5"/><circle cx="518.46" cy="1374.85" r="0.7"/><circle cx="538.96" cy="1394.99" r="0.4"/><circle cx="440.01" cy="1409.11" r="0.4"/><circle cx="516.9" cy="1400.27" r="0.7"/><circle cx="418.02" cy="1377.71" r="0.4"/><circle cx="342.2" cy="1417.96" r="0.5"/><circle cx="584.85" cy="1380.46" r="0.4"/><circle cx="379.65" cy="1424.38" r="0.5"/><circle cx="411.28" cy="1374.76" r="0.7"/><circle cx="461.15" cy="1417.24" r="0.7"/><circle cx="497.51" cy="1418.72" r="0.5"/><circle cx="551.36" cy="1386.75" r="0.5"/><circle cx="374.55" cy="1417.12" r="0.4"/><circle cx="360.18" cy="1377.25" r="0.7"/><circle cx="434.63" cy="1390.56" r="0.5"/><circle cx="340.97" cy="1409.04" r="0.5"/><circle cx="566.62" cy="1381.01" r="0.7"/><circle cx="511.49" cy="1406.51" r="0.4"/><circle cx="418.59" cy="1399.32" r="0.7"/><circle cx="310.24" cy="1415.29" r="0.4"/><circle cx="384.54" cy="1413.78" r="0.7"/><circle cx="582.21" cy="1381.52" r="0.7"/><circle cx="571.11" cy="1395" r="0.5"/><circle cx="358.93" cy="1381.21" r="0.4"/><circle cx="485.39" cy="1393.85" r="0.4"/></g>
<g stroke="#111" stroke-width="0.9"><line x1="174" y1="1011.8" x2="291.6" y2="991.9"/><line x1="174" y1="1011.8" x2="375.3" y2="1036.6"/><line x1="291.6" y1="991.9" x2="491.4" y2="1016.7"/><line x1="375.3" y1="1036.6" x2="491.4" y2="1016.7"/><line x1="174" y1="1011.8" x2="275.3" y2="1399.4"/><line x1="291.6" y1="991.9" x2="392.9" y2="1379.5"/><line x1="375.3" y1="1036.6" x2="476.6" y2="1424.2"/><line x1="491.4" y1="1016.7" x2="592.7" y2="1404.3"/><line x1="275.3" y1="1399.4" x2="392.9" y2="1379.5"/><line x1="275.3" y1="1399.4" x2="476.6" y2="1424.2"/><line x1="392.9" y1="1379.5" x2="592.7" y2="1404.3"/><line x1="476.6" y1="1424.2" x2="592.7" y2="1404.3"/></g>
<g stroke="#222" stroke-width="1.4" fill="none"><polyline points="294.5,1369.9 113,1400.9 475.2,1424.7 656.7,1393.7 294.5,1369.9"/></g>
<line x1="112.8" y1="974" x2="112.8" y2="1400.9" stroke="#222" stroke-width="1.6" />
<line x1="101.5" y1="1400.9" x2="112.8" y2="1400.9" stroke="#222" stroke-width="1.6" />
<line x1="101.5" y1="1286.7" x2="112.8" y2="1286.7" stroke="#222" stroke-width="1.6" />
<line x1="101.5" y1="1172.9" x2="112.8" y2="1172.9" stroke="#222" stroke-width="1.6" />
<line x1="101.5" y1="1059.1" x2="112.8" y2="1059.1" stroke="#222" stroke-width="1.6" />
<text x="75.3" y="1414.8" font-family="&quot;Liberation Serif&quot;, serif" font-size="37" font-weight="normal" font-style="normal" text-anchor="start" fill="#000" >0</text>
<text x="55" y="1297.6" font-family="&quot;Liberation Serif&quot;, serif" font-size="37" font-weight="normal" font-style="normal" text-anchor="start" fill="#000" >20</text>
<text x="55" y="1188" font-family="&quot;Liberation Serif&quot;, serif" font-size="37.5" font-weight="normal" font-style="normal" text-anchor="start" fill="#000" >40</text>
<text x="55.3" y="1070.4" font-family="&quot;Liberation Serif&quot;, serif" font-size="37.5" font-weight="normal" font-style="normal" text-anchor="start" fill="#000" >60</text>
<line x1="185" y1="1405.63" x2="185" y2="1415.63" stroke="#222" stroke-width="1.4" />
<line x1="281.8" y1="1411.99" x2="281.8" y2="1421.99" stroke="#222" stroke-width="1.4" />
<line x1="378.3" y1="1418.33" x2="378.3" y2="1428.33" stroke="#222" stroke-width="1.4" />
<line x1="475.2" y1="1424.7" x2="475.2" y2="1434.7" stroke="#222" stroke-width="1.4" />
<line x1="536.1" y1="1414.3" x2="536.1" y2="1424.3" stroke="#222" stroke-width="1.4" />
<line x1="596.7" y1="1403.95" x2="596.7" y2="1413.95" stroke="#222" stroke-width="1.4" />
<line x1="656.7" y1="1393.7" x2="656.7" y2="1403.7" stroke="#222" stroke-width="1.4" />
<text x="155.4" y="1450" font-family="&quot;Liberation Serif&quot;, serif" font-size="35" font-weight="normal" font-style="normal" text-anchor="start" fill="#000" >-60</text>
<text x="248.8" y="1457" font-family="&quot;Liberation Serif&quot;, serif" font-size="35.5" font-weight="normal" font-style="normal" text-anchor="start" fill="#000" >-40</text>
<text x="349.2" y="1457.6" font-family="&quot;Liberation Serif&quot;, serif" font-size="35" font-weight="normal" font-style="normal" text-anchor="start" fill="#000" >-20</text>
<text x="522.5" y="1457.6" font-family="&quot;Liberation Serif&quot;, serif" font-size="36" font-weight="normal" font-style="normal" text-anchor="start" fill="#000" >20</text>
<text x="581.8" y="1446.6" font-family="&quot;Liberation Serif&quot;, serif" font-size="35" font-weight="normal" font-style="normal" text-anchor="start" fill="#000" >40</text>
<text x="641" y="1433.8" font-family="&quot;Liberation Serif&quot;, serif" font-size="35" font-weight="normal" font-style="normal" text-anchor="start" fill="#000" >60</text>
<text x="215.8" y="1503.6" font-family="&quot;Liberation Serif&quot;, serif" font-size="47.5" font-weight="bold" font-style="normal" text-anchor="start" fill="#000" textLength="99" lengthAdjust="spacingAndGlyphs">x (Å)</text>
<text x="588.5" y="1491" font-family="&quot;Liberation Serif&quot;, serif" font-size="44" font-weight="bold" font-style="normal" text-anchor="start" fill="#000" textLength="86.5" lengthAdjust="spacingAndGlyphs">y(Å)</text>
<text x="47.3" y="1237.3" font-family="&quot;Liberation Serif&quot;, serif" font-size="48" font-weight="bold" font-style="normal" text-anchor="middle" fill="#000" transform="rotate(-90 47.3 1237.3)" textLength="94" lengthAdjust="spacingAndGlyphs">z (Å)</text>
<g stroke="#000" stroke-width="2.6" stroke-linecap="butt">
<line x1="504.6" y1="1067.9" x2="478.6" y2="968"/>
<line x1="542.1" y1="1006.1" x2="438" y2="1026.5"/>
<line x1="552.1" y1="1026.4" x2="436" y2="1009.6"/>
</g>
<path d="M475.8,958.3 L472.6,975.5 L477.6,971.6 L487.4,970.4 Z" fill="#000"/>
<path d="M430,1028 L446.8,1032.6 L441.8,1026.5 L442.6,1019.2 Z" fill="#000"/>
<path d="M427.5,1008.1 L441.6,1016.6 L439.6,1010 L443.6,1003.2 Z" fill="#000"/>
<text x="488.6" y="967.8" font-family="&quot;Liberation Serif&quot;, serif" font-size="28" font-weight="normal" font-style="normal" text-anchor="start" fill="#000" >[001]</text>
<text x="550.1" y="1009.4" font-family="&quot;Liberation Serif&quot;, serif" font-size="28" font-weight="normal" font-style="normal" text-anchor="start" fill="#000" >[010]</text>
<line x1="577.6" y1="986.8" x2="584.2" y2="986.8" stroke="#000" stroke-width="1.5" />
<text x="531" y="1056.6" font-family="&quot;Liberation Serif&quot;, serif" font-size="27.5" font-weight="normal" font-style="normal" text-anchor="start" fill="#000" >[100]</text>
<line x1="360.6" y1="1197.4" x2="205" y2="1223" stroke="#000" stroke-width="1.6" />
<path d="M199.9,1223.6 L214.5,1215.2 L210.5,1222.2 L216.5,1228.4 Z" fill="#000"/>
<text x="149.2" y="1197.7" font-family="&quot;Liberation Serif&quot;, serif" font-size="49" font-weight="normal" font-style="italic" text-anchor="start" fill="#000" >C</text>
<text x="181.7" y="1203.9" font-family="&quot;Liberation Serif&quot;, serif" font-size="32.5" font-weight="normal" font-style="normal" text-anchor="start" fill="#000" >2</text>
<text x="202" y="1203.8" font-family="&quot;Liberation Serif&quot;, serif" font-size="31" font-weight="normal" font-style="italic" text-anchor="start" fill="#000" >y</text>
<path d="M289.07,1189 C290.85,1188.95 296.08,1188.07 299.74,1188.68 C303.41,1189.29 307.62,1190.54 311.03,1192.64 C314.44,1194.74 317.96,1198 320.21,1201.28 C322.46,1204.56 324.15,1208.52 324.52,1212.3 C324.88,1216.07 323.82,1220.7 322.41,1223.94 C321,1227.18 318.57,1229.61 316.05,1231.72 C313.54,1233.82 310.36,1235.82 307.31,1236.58 C304.25,1237.35 300.75,1237.11 297.74,1236.3 C294.74,1235.49 290.68,1232.49 289.26,1231.73 L286.74,1236.27 C288.32,1237.18 292.6,1240.68 296.26,1241.7 C299.92,1242.72 304.75,1243.32 308.69,1242.42 C312.64,1241.52 316.8,1239.01 319.95,1236.28 C323.1,1233.56 326,1230.16 327.59,1226.06 C329.18,1221.96 330.12,1216.26 329.48,1211.7 C328.85,1207.15 326.54,1202.44 323.79,1198.72 C321.04,1195 316.89,1191.6 312.97,1189.36 C309.04,1187.13 304.26,1185.88 300.26,1185.32 C296.25,1184.76 290.82,1185.89 288.93,1186 Z" fill="url(#ribG)" stroke="#1a9a55" stroke-width="0.5"/>
<path d="M325,1225 C323.83,1226.5 320.83,1231.58 318,1234 C315.17,1236.42 311.5,1238.67 308,1239.5 C304.5,1240.33 298.83,1239.08 297,1239" stroke="#c8f5dc" stroke-width="1.1" fill="none" opacity="0.7" stroke-linecap="round"/>
<path d="M280.5,1226 L293,1219.5 L290,1228.5 L294,1236 Z" fill="#1a9a55"/>
</svg>
</body></html>
